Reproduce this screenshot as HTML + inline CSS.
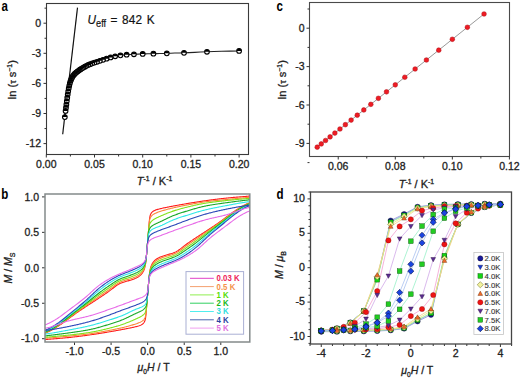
<!DOCTYPE html>
<html><head><meta charset="utf-8"><style>
html,body{margin:0;padding:0;background:#fff;}
svg{display:block;}
text{font-family:"Liberation Sans", sans-serif;}
</style></head><body>
<svg width="521" height="379" viewBox="0 0 521 379">
<rect width="521" height="379" fill="#fff"/>
<text transform="translate(1.5,10.9) scale(0.8,1)" font-size="14.4" font-weight="bold" fill="#000">a</text>
<rect x="46.5" y="3.5" width="202" height="151" fill="none" stroke="#3a3a3a" stroke-width="1.1"/>
<line x1="46.3" y1="154.5" x2="46.3" y2="157.5" stroke="#333" stroke-width="1"/>
<line x1="94.5" y1="154.5" x2="94.5" y2="157.5" stroke="#333" stroke-width="1"/>
<line x1="142.7" y1="154.5" x2="142.7" y2="157.5" stroke="#333" stroke-width="1"/>
<line x1="190.9" y1="154.5" x2="190.9" y2="157.5" stroke="#333" stroke-width="1"/>
<line x1="239.1" y1="154.5" x2="239.1" y2="157.5" stroke="#333" stroke-width="1"/>
<line x1="70.4" y1="154.5" x2="70.4" y2="156.5" stroke="#333" stroke-width="1"/>
<line x1="118.6" y1="154.5" x2="118.6" y2="156.5" stroke="#333" stroke-width="1"/>
<line x1="166.8" y1="154.5" x2="166.8" y2="156.5" stroke="#333" stroke-width="1"/>
<line x1="215" y1="154.5" x2="215" y2="156.5" stroke="#333" stroke-width="1"/>
<line x1="43.5" y1="143.6" x2="46.5" y2="143.6" stroke="#333" stroke-width="1"/>
<line x1="43.5" y1="113.5" x2="46.5" y2="113.5" stroke="#333" stroke-width="1"/>
<line x1="43.5" y1="83.4" x2="46.5" y2="83.4" stroke="#333" stroke-width="1"/>
<line x1="43.5" y1="53.3" x2="46.5" y2="53.3" stroke="#333" stroke-width="1"/>
<line x1="43.5" y1="23.2" x2="46.5" y2="23.2" stroke="#333" stroke-width="1"/>
<line x1="44.5" y1="128.55" x2="46.5" y2="128.55" stroke="#333" stroke-width="1"/>
<line x1="44.5" y1="98.45" x2="46.5" y2="98.45" stroke="#333" stroke-width="1"/>
<line x1="44.5" y1="68.35" x2="46.5" y2="68.35" stroke="#333" stroke-width="1"/>
<line x1="44.5" y1="38.25" x2="46.5" y2="38.25" stroke="#333" stroke-width="1"/>
<line x1="44.5" y1="8.15" x2="46.5" y2="8.15" stroke="#333" stroke-width="1"/>
<text x="46.3" y="168" font-size="10.5" text-anchor="middle" font-weight="normal" font-style="normal" fill="#222" stroke="#222" stroke-width="0.3" >0.00</text>
<text x="94.5" y="168" font-size="10.5" text-anchor="middle" font-weight="normal" font-style="normal" fill="#222" stroke="#222" stroke-width="0.3" >0.05</text>
<text x="142.7" y="168" font-size="10.5" text-anchor="middle" font-weight="normal" font-style="normal" fill="#222" stroke="#222" stroke-width="0.3" >0.10</text>
<text x="190.9" y="168" font-size="10.5" text-anchor="middle" font-weight="normal" font-style="normal" fill="#222" stroke="#222" stroke-width="0.3" >0.15</text>
<text x="239.1" y="168" font-size="10.5" text-anchor="middle" font-weight="normal" font-style="normal" fill="#222" stroke="#222" stroke-width="0.3" >0.20</text>
<text x="41" y="27" font-size="10.5" text-anchor="end" font-weight="normal" font-style="normal" fill="#222" stroke="#222" stroke-width="0.3" >0</text>
<text x="41" y="57.1" font-size="10.5" text-anchor="end" font-weight="normal" font-style="normal" fill="#222" stroke="#222" stroke-width="0.3" >-3</text>
<text x="41" y="87.2" font-size="10.5" text-anchor="end" font-weight="normal" font-style="normal" fill="#222" stroke="#222" stroke-width="0.3" >-6</text>
<text x="41" y="117.3" font-size="10.5" text-anchor="end" font-weight="normal" font-style="normal" fill="#222" stroke="#222" stroke-width="0.3" >-9</text>
<text x="41" y="147.4" font-size="10.5" text-anchor="end" font-weight="normal" font-style="normal" fill="#222" stroke="#222" stroke-width="0.3" >-12</text>
<text x="154.5" y="185" font-size="11" text-anchor="middle" font-weight="normal" font-style="normal" fill="#222" stroke="#222" stroke-width="0.3" ><tspan font-style="italic">T</tspan><tspan dy="-4.2" font-size="6.8">-1</tspan><tspan dy="4.2"> / K</tspan><tspan dy="-4.2" font-size="6.8">-1</tspan></text>
<g transform="translate(16.4,79.6) rotate(-90)"><text x="0" y="0" font-size="11" text-anchor="middle" fill="#222" stroke="#222" stroke-width="0.3">ln (<tspan font-size="9">&#964;</tspan> s<tspan dy="-4" font-size="7">&#8722;1</tspan><tspan dy="4">)</tspan></text></g>
<text transform="translate(87.6,23.8) scale(0.88,1)" font-size="13.4" fill="#111" stroke="#111" stroke-width="0.2"><tspan font-style="italic">U</tspan><tspan dy="2.8" font-size="10.4">eff</tspan><tspan dy="-2.8" letter-spacing="0.25" word-spacing="1.0"> = 842 K</tspan></text>
<line x1="77.5" y1="7.6" x2="62.7" y2="134.3" stroke="#111" stroke-width="1.2"/>
<polyline fill="none" stroke="#222" stroke-width="1.1" points="239.1,50.94 229.92,51.12 221.57,51.32 213.95,51.53 206.97,51.76 200.54,52.04 194.61,52.36 189.11,52.66 184.01,52.85 179.27,52.96 174.83,53.07 170.69,53.19 166.8,53.32 163.15,53.43 159.71,53.52 156.47,53.59 153.41,53.67 150.52,53.74 147.77,53.78 145.17,53.83 142.7,53.89 140.35,53.98 138.11,54.08 135.97,54.18 133.94,54.29 131.99,54.39 130.13,54.5 128.34,54.61 126.63,54.74 124.99,54.87 123.42,55 121.91,55.15 120.45,55.33 119.05,55.55 117.71,55.78 116.41,56.03 115.16,56.29 113.95,56.56 112.78,56.84 111.66,57.13 110.57,57.42 109.51,57.72 108.49,58.03 107.51,58.33 106.55,58.63 105.62,58.94 104.72,59.24 103.85,59.53 103.01,59.82 102.18,60.1 101.39,60.37 100.61,60.62 99.86,60.87 99.12,61.1 98.41,61.32 97.71,61.54 97.04,61.76 96.38,61.97 95.74,62.18 95.11,62.38 94.5,62.58 93.9,62.78 93.32,62.98 92.76,63.18 92.2,63.37 91.66,63.57 91.14,63.76 90.62,63.96 90.12,64.16 89.63,64.35 89.14,64.55 88.67,64.75 88.21,64.96 87.76,65.16 87.32,65.37 86.89,65.58 86.47,65.8 86.05,66.02 85.65,66.23 85.25,66.45 84.86,66.67 84.48,66.88 84.1,67.1 83.74,67.31 83.38,67.52 83.02,67.73 82.68,67.94 82.34,68.15 82,68.36 81.68,68.57 81.35,68.77 81.04,68.98 80.73,69.18 80.42,69.39 80.12,69.59 79.83,69.79 79.54,69.99 79.26,70.19 78.98,70.39 78.7,70.59 78.43,70.78 78.17,70.98 77.91,71.18 77.65,71.37 77.4,71.57 77.15,71.76 76.9,71.96 76.66,72.15 76.42,72.34 76.19,72.54 75.96,72.73 75.74,72.93 75.51,73.12 75.29,73.32 75.08,73.53 74.86,73.74 74.65,73.95 74.45,74.17 74.24,74.39 74.04,74.61 73.84,74.84 73.65,75.08 73.45,75.32 73.27,75.57 73.08,75.82 72.89,76.08 72.71,76.35 72.53,76.63 72.35,76.92 72.18,77.21 72.01,77.52 71.84,77.84 71.67,78.17 71.5,78.52 71.34,78.88 71.18,79.25 71.02,79.64 70.86,80.04 70.71,80.47 70.55,80.91 70.4,81.36 70.25,81.84 70.1,82.34 69.96,82.86 69.81,83.4 69.67,83.96 69.53,84.54 69.39,85.14 69.25,85.76 69.12,86.4 68.98,87.06 68.85,87.74 68.72,88.43 68.59,89.14 68.46,89.87 68.33,90.61 68.21,91.36 68.09,92.13 67.96,92.9 67.84,93.69 67.72,94.49 67.6,95.29 67.49,96.1 67.37,96.92 67.26,97.74 67.14,98.57 67.03,99.4 66.92,100.23 66.81,101.06 66.7,101.89 66.59,102.73 66.49,103.55 66.38,104.38 66.28,105.21 66.18,106.03 66.07,106.85 65.97,107.66 65.87,108.48 65.77,109.28 65.68,110.09 65.58,110.89 65.48,111.68 65.39,112.47 65.3,113.26 65.2,114.04 65.11,114.81 65.02,115.58 64.93,116.34 64.84,117.1 64.75,117.85 64.66,118.6 64.57,119.34 64.49,120.07"/>
<circle cx="239.1" cy="50.94" r="2.35" fill="#fff" stroke="#000" stroke-width="1.05"/>
<path d="M236.75,50.94 A2.35,2.35 0 0 1 241.45,50.94 Z" fill="#000"/>
<circle cx="206.97" cy="51.76" r="2.35" fill="#fff" stroke="#000" stroke-width="1.05"/>
<path d="M204.62,51.76 A2.35,2.35 0 0 1 209.32,51.76 Z" fill="#000"/>
<circle cx="184.01" cy="52.85" r="2.35" fill="#fff" stroke="#000" stroke-width="1.05"/>
<path d="M181.66,52.85 A2.35,2.35 0 0 1 186.36,52.85 Z" fill="#000"/>
<circle cx="166.8" cy="53.32" r="2.35" fill="#fff" stroke="#000" stroke-width="1.05"/>
<path d="M164.45,53.32 A2.35,2.35 0 0 1 169.15,53.32 Z" fill="#000"/>
<circle cx="153.41" cy="53.67" r="2.35" fill="#fff" stroke="#000" stroke-width="1.05"/>
<path d="M151.06,53.67 A2.35,2.35 0 0 1 155.76,53.67 Z" fill="#000"/>
<circle cx="142.7" cy="53.89" r="2.35" fill="#fff" stroke="#000" stroke-width="1.05"/>
<path d="M140.35,53.89 A2.35,2.35 0 0 1 145.05,53.89 Z" fill="#000"/>
<circle cx="133.94" cy="54.29" r="2.35" fill="#fff" stroke="#000" stroke-width="1.05"/>
<path d="M131.59,54.29 A2.35,2.35 0 0 1 136.29,54.29 Z" fill="#000"/>
<circle cx="126.63" cy="54.74" r="2.35" fill="#fff" stroke="#000" stroke-width="1.05"/>
<path d="M124.28,54.74 A2.35,2.35 0 0 1 128.98,54.74 Z" fill="#000"/>
<circle cx="120.45" cy="55.33" r="2.35" fill="#fff" stroke="#000" stroke-width="1.05"/>
<path d="M118.1,55.33 A2.35,2.35 0 0 1 122.8,55.33 Z" fill="#000"/>
<circle cx="115.16" cy="56.29" r="2.35" fill="#fff" stroke="#000" stroke-width="1.05"/>
<path d="M112.81,56.29 A2.35,2.35 0 0 1 117.51,56.29 Z" fill="#000"/>
<circle cx="110.57" cy="57.42" r="2.35" fill="#fff" stroke="#000" stroke-width="1.05"/>
<path d="M108.22,57.42 A2.35,2.35 0 0 1 112.92,57.42 Z" fill="#000"/>
<circle cx="106.55" cy="58.63" r="2.35" fill="#fff" stroke="#000" stroke-width="1.05"/>
<path d="M104.2,58.63 A2.35,2.35 0 0 1 108.9,58.63 Z" fill="#000"/>
<circle cx="103.01" cy="59.82" r="2.35" fill="#fff" stroke="#000" stroke-width="1.05"/>
<path d="M100.66,59.82 A2.35,2.35 0 0 1 105.36,59.82 Z" fill="#000"/>
<circle cx="99.86" cy="60.87" r="2.35" fill="#fff" stroke="#000" stroke-width="1.05"/>
<path d="M97.51,60.87 A2.35,2.35 0 0 1 102.21,60.87 Z" fill="#000"/>
<circle cx="97.04" cy="61.76" r="2.35" fill="#fff" stroke="#000" stroke-width="1.05"/>
<path d="M94.69,61.76 A2.35,2.35 0 0 1 99.39,61.76 Z" fill="#000"/>
<circle cx="94.5" cy="62.58" r="2.35" fill="#fff" stroke="#000" stroke-width="1.05"/>
<path d="M92.15,62.58 A2.35,2.35 0 0 1 96.85,62.58 Z" fill="#000"/>
<circle cx="92.2" cy="63.37" r="2.35" fill="#fff" stroke="#000" stroke-width="1.05"/>
<path d="M89.85,63.37 A2.35,2.35 0 0 1 94.55,63.37 Z" fill="#000"/>
<circle cx="90.12" cy="64.16" r="2.35" fill="#fff" stroke="#000" stroke-width="1.05"/>
<path d="M87.77,64.16 A2.35,2.35 0 0 1 92.47,64.16 Z" fill="#000"/>
<circle cx="88.21" cy="64.96" r="2.35" fill="#fff" stroke="#000" stroke-width="1.05"/>
<path d="M85.86,64.96 A2.35,2.35 0 0 1 90.56,64.96 Z" fill="#000"/>
<circle cx="86.47" cy="65.8" r="2.35" fill="#fff" stroke="#000" stroke-width="1.05"/>
<path d="M84.12,65.8 A2.35,2.35 0 0 1 88.82,65.8 Z" fill="#000"/>
<circle cx="84.86" cy="66.67" r="2.35" fill="#fff" stroke="#000" stroke-width="1.05"/>
<path d="M82.51,66.67 A2.35,2.35 0 0 1 87.21,66.67 Z" fill="#000"/>
<circle cx="83.38" cy="67.52" r="2.35" fill="#fff" stroke="#000" stroke-width="1.05"/>
<path d="M81.03,67.52 A2.35,2.35 0 0 1 85.73,67.52 Z" fill="#000"/>
<circle cx="82" cy="68.36" r="2.35" fill="#fff" stroke="#000" stroke-width="1.05"/>
<path d="M79.65,68.36 A2.35,2.35 0 0 1 84.35,68.36 Z" fill="#000"/>
<circle cx="80.73" cy="69.18" r="2.35" fill="#fff" stroke="#000" stroke-width="1.05"/>
<path d="M78.38,69.18 A2.35,2.35 0 0 1 83.08,69.18 Z" fill="#000"/>
<circle cx="79.54" cy="69.99" r="2.35" fill="#fff" stroke="#000" stroke-width="1.05"/>
<path d="M77.19,69.99 A2.35,2.35 0 0 1 81.89,69.99 Z" fill="#000"/>
<circle cx="78.43" cy="70.78" r="2.35" fill="#fff" stroke="#000" stroke-width="1.05"/>
<path d="M76.08,70.78 A2.35,2.35 0 0 1 80.78,70.78 Z" fill="#000"/>
<circle cx="77.4" cy="71.57" r="2.35" fill="#fff" stroke="#000" stroke-width="1.05"/>
<path d="M75.05,71.57 A2.35,2.35 0 0 1 79.75,71.57 Z" fill="#000"/>
<circle cx="76.42" cy="72.34" r="2.35" fill="#fff" stroke="#000" stroke-width="1.05"/>
<path d="M74.08,72.34 A2.35,2.35 0 0 1 78.77,72.34 Z" fill="#000"/>
<circle cx="75.51" cy="73.12" r="2.35" fill="#fff" stroke="#000" stroke-width="1.05"/>
<path d="M73.16,73.12 A2.35,2.35 0 0 1 77.86,73.12 Z" fill="#000"/>
<circle cx="74.65" cy="73.95" r="2.35" fill="#fff" stroke="#000" stroke-width="1.05"/>
<path d="M72.3,73.95 A2.35,2.35 0 0 1 77,73.95 Z" fill="#000"/>
<circle cx="73.84" cy="74.84" r="2.35" fill="#fff" stroke="#000" stroke-width="1.05"/>
<path d="M71.49,74.84 A2.35,2.35 0 0 1 76.19,74.84 Z" fill="#000"/>
<circle cx="73.08" cy="75.82" r="2.35" fill="#fff" stroke="#000" stroke-width="1.05"/>
<path d="M70.73,75.82 A2.35,2.35 0 0 1 75.43,75.82 Z" fill="#000"/>
<circle cx="72.35" cy="76.92" r="2.35" fill="#fff" stroke="#000" stroke-width="1.05"/>
<path d="M70,76.92 A2.35,2.35 0 0 1 74.7,76.92 Z" fill="#000"/>
<circle cx="71.67" cy="78.17" r="2.35" fill="#fff" stroke="#000" stroke-width="1.05"/>
<path d="M69.32,78.17 A2.35,2.35 0 0 1 74.02,78.17 Z" fill="#000"/>
<circle cx="71.02" cy="79.64" r="2.35" fill="#fff" stroke="#000" stroke-width="1.05"/>
<path d="M68.67,79.64 A2.35,2.35 0 0 1 73.37,79.64 Z" fill="#000"/>
<circle cx="70.4" cy="81.36" r="2.35" fill="#fff" stroke="#000" stroke-width="1.05"/>
<path d="M68.05,81.36 A2.35,2.35 0 0 1 72.75,81.36 Z" fill="#000"/>
<circle cx="69.81" cy="83.4" r="2.35" fill="#fff" stroke="#000" stroke-width="1.05"/>
<path d="M67.46,83.4 A2.35,2.35 0 0 1 72.16,83.4 Z" fill="#000"/>
<circle cx="69.25" cy="85.76" r="2.35" fill="#fff" stroke="#000" stroke-width="1.05"/>
<path d="M66.9,85.76 A2.35,2.35 0 0 1 71.6,85.76 Z" fill="#000"/>
<circle cx="68.72" cy="88.43" r="2.35" fill="#fff" stroke="#000" stroke-width="1.05"/>
<path d="M66.37,88.43 A2.35,2.35 0 0 1 71.07,88.43 Z" fill="#000"/>
<circle cx="68.21" cy="91.36" r="2.35" fill="#fff" stroke="#000" stroke-width="1.05"/>
<path d="M65.86,91.36 A2.35,2.35 0 0 1 70.56,91.36 Z" fill="#000"/>
<circle cx="67.72" cy="94.49" r="2.35" fill="#fff" stroke="#000" stroke-width="1.05"/>
<path d="M65.37,94.49 A2.35,2.35 0 0 1 70.07,94.49 Z" fill="#000"/>
<circle cx="67.26" cy="97.74" r="2.35" fill="#fff" stroke="#000" stroke-width="1.05"/>
<path d="M64.91,97.74 A2.35,2.35 0 0 1 69.61,97.74 Z" fill="#000"/>
<circle cx="66.81" cy="101.06" r="2.35" fill="#fff" stroke="#000" stroke-width="1.05"/>
<path d="M64.46,101.06 A2.35,2.35 0 0 1 69.16,101.06 Z" fill="#000"/>
<circle cx="66.38" cy="104.38" r="2.35" fill="#fff" stroke="#000" stroke-width="1.05"/>
<path d="M64.03,104.38 A2.35,2.35 0 0 1 68.73,104.38 Z" fill="#000"/>
<circle cx="65.97" cy="107.66" r="2.35" fill="#fff" stroke="#000" stroke-width="1.05"/>
<path d="M63.62,107.66 A2.35,2.35 0 0 1 68.32,107.66 Z" fill="#000"/>
<circle cx="65.58" cy="110.89" r="2.35" fill="#fff" stroke="#000" stroke-width="1.05"/>
<path d="M63.23,110.89 A2.35,2.35 0 0 1 67.93,110.89 Z" fill="#000"/>
<circle cx="64.84" cy="117.1" r="2.35" fill="#fff" stroke="#000" stroke-width="1.05"/>
<path d="M62.49,117.1 A2.35,2.35 0 0 1 67.19,117.1 Z" fill="#000"/>
<text transform="translate(276.6,10.9) scale(0.8,1)" font-size="14.4" font-weight="bold" fill="#000">c</text>
<rect x="309.5" y="2.5" width="200" height="154" fill="none" stroke="#4a4a4a" stroke-width="1.1"/>
<line x1="338.23" y1="156.5" x2="338.23" y2="159.5" stroke="#333" stroke-width="1"/>
<line x1="395.29" y1="156.5" x2="395.29" y2="159.5" stroke="#333" stroke-width="1"/>
<line x1="452.34" y1="156.5" x2="452.34" y2="159.5" stroke="#333" stroke-width="1"/>
<line x1="509.4" y1="156.5" x2="509.4" y2="159.5" stroke="#333" stroke-width="1"/>
<line x1="366.76" y1="156.5" x2="366.76" y2="158.5" stroke="#333" stroke-width="1"/>
<line x1="423.81" y1="156.5" x2="423.81" y2="158.5" stroke="#333" stroke-width="1"/>
<line x1="480.87" y1="156.5" x2="480.87" y2="158.5" stroke="#333" stroke-width="1"/>
<line x1="306.5" y1="143.4" x2="309.5" y2="143.4" stroke="#333" stroke-width="1"/>
<line x1="306.5" y1="105" x2="309.5" y2="105" stroke="#333" stroke-width="1"/>
<line x1="306.5" y1="66.6" x2="309.5" y2="66.6" stroke="#333" stroke-width="1"/>
<line x1="306.5" y1="28.2" x2="309.5" y2="28.2" stroke="#333" stroke-width="1"/>
<line x1="307.5" y1="162.6" x2="309.5" y2="162.6" stroke="#333" stroke-width="1"/>
<line x1="307.5" y1="124.2" x2="309.5" y2="124.2" stroke="#333" stroke-width="1"/>
<line x1="307.5" y1="85.8" x2="309.5" y2="85.8" stroke="#333" stroke-width="1"/>
<line x1="307.5" y1="47.4" x2="309.5" y2="47.4" stroke="#333" stroke-width="1"/>
<line x1="307.5" y1="9" x2="309.5" y2="9" stroke="#333" stroke-width="1"/>
<text x="338.23" y="170" font-size="10.5" text-anchor="middle" font-weight="normal" font-style="normal" fill="#222" stroke="#222" stroke-width="0.3" >0.06</text>
<text x="395.29" y="170" font-size="10.5" text-anchor="middle" font-weight="normal" font-style="normal" fill="#222" stroke="#222" stroke-width="0.3" >0.08</text>
<text x="452.34" y="170" font-size="10.5" text-anchor="middle" font-weight="normal" font-style="normal" fill="#222" stroke="#222" stroke-width="0.3" >0.10</text>
<text x="509.4" y="170" font-size="10.5" text-anchor="middle" font-weight="normal" font-style="normal" fill="#222" stroke="#222" stroke-width="0.3" >0.12</text>
<text x="304.5" y="32" font-size="10.5" text-anchor="end" font-weight="normal" font-style="normal" fill="#222" stroke="#222" stroke-width="0.3" >0</text>
<text x="304.5" y="70.4" font-size="10.5" text-anchor="end" font-weight="normal" font-style="normal" fill="#222" stroke="#222" stroke-width="0.3" >-3</text>
<text x="304.5" y="108.8" font-size="10.5" text-anchor="end" font-weight="normal" font-style="normal" fill="#222" stroke="#222" stroke-width="0.3" >-6</text>
<text x="304.5" y="147.2" font-size="10.5" text-anchor="end" font-weight="normal" font-style="normal" fill="#222" stroke="#222" stroke-width="0.3" >-9</text>
<text x="416.4" y="188" font-size="11" text-anchor="middle" font-weight="normal" font-style="normal" fill="#222" stroke="#222" stroke-width="0.3" ><tspan font-style="italic">T</tspan><tspan dy="-4.2" font-size="6.8">-1</tspan><tspan dy="4.2"> / K</tspan><tspan dy="-4.2" font-size="6.8">-1</tspan></text>
<g transform="translate(285.6,79.6) rotate(-90)"><text x="0" y="0" font-size="11" text-anchor="middle" fill="#222" stroke="#222" stroke-width="0.3">ln (<tspan font-size="9">&#964;</tspan> s<tspan dy="-4" font-size="7">&#8722;1</tspan><tspan dy="4">)</tspan></text></g>
<line x1="317.21" y1="147.15" x2="484.04" y2="13.98" stroke="#999" stroke-width="1"/>
<circle cx="317.21" cy="147.15" r="2.35" fill="#ee1c24" stroke="#b00c14" stroke-width="0.5"/>
<circle cx="321.27" cy="143.91" r="2.35" fill="#ee1c24" stroke="#b00c14" stroke-width="0.5"/>
<circle cx="325.55" cy="140.49" r="2.35" fill="#ee1c24" stroke="#b00c14" stroke-width="0.5"/>
<circle cx="330.08" cy="136.88" r="2.35" fill="#ee1c24" stroke="#b00c14" stroke-width="0.5"/>
<circle cx="334.87" cy="133.05" r="2.35" fill="#ee1c24" stroke="#b00c14" stroke-width="0.5"/>
<circle cx="339.96" cy="128.99" r="2.35" fill="#ee1c24" stroke="#b00c14" stroke-width="0.5"/>
<circle cx="345.36" cy="124.68" r="2.35" fill="#ee1c24" stroke="#b00c14" stroke-width="0.5"/>
<circle cx="351.11" cy="120.09" r="2.35" fill="#ee1c24" stroke="#b00c14" stroke-width="0.5"/>
<circle cx="357.25" cy="115.19" r="2.35" fill="#ee1c24" stroke="#b00c14" stroke-width="0.5"/>
<circle cx="363.81" cy="109.95" r="2.35" fill="#ee1c24" stroke="#b00c14" stroke-width="0.5"/>
<circle cx="370.83" cy="104.35" r="2.35" fill="#ee1c24" stroke="#b00c14" stroke-width="0.5"/>
<circle cx="378.38" cy="98.32" r="2.35" fill="#ee1c24" stroke="#b00c14" stroke-width="0.5"/>
<circle cx="386.51" cy="91.83" r="2.35" fill="#ee1c24" stroke="#b00c14" stroke-width="0.5"/>
<circle cx="395.29" cy="84.83" r="2.35" fill="#ee1c24" stroke="#b00c14" stroke-width="0.5"/>
<circle cx="404.8" cy="77.24" r="2.35" fill="#ee1c24" stroke="#b00c14" stroke-width="0.5"/>
<circle cx="415.13" cy="68.99" r="2.35" fill="#ee1c24" stroke="#b00c14" stroke-width="0.5"/>
<circle cx="426.41" cy="59.99" r="2.35" fill="#ee1c24" stroke="#b00c14" stroke-width="0.5"/>
<circle cx="438.76" cy="50.13" r="2.35" fill="#ee1c24" stroke="#b00c14" stroke-width="0.5"/>
<circle cx="452.34" cy="39.28" r="2.35" fill="#ee1c24" stroke="#b00c14" stroke-width="0.5"/>
<circle cx="467.36" cy="27.3" r="2.35" fill="#ee1c24" stroke="#b00c14" stroke-width="0.5"/>
<circle cx="484.04" cy="13.98" r="2.35" fill="#ee1c24" stroke="#b00c14" stroke-width="0.5"/>
<text transform="translate(1.2,199.1) scale(0.8,1)" font-size="14.4" font-weight="bold" fill="#000">b</text>
<line x1="74.5" y1="342" x2="74.5" y2="345" stroke="#333" stroke-width="1"/>
<line x1="111.08" y1="342" x2="111.08" y2="345" stroke="#333" stroke-width="1"/>
<line x1="147.65" y1="342" x2="147.65" y2="345" stroke="#333" stroke-width="1"/>
<line x1="184.23" y1="342" x2="184.23" y2="345" stroke="#333" stroke-width="1"/>
<line x1="220.8" y1="342" x2="220.8" y2="345" stroke="#333" stroke-width="1"/>
<line x1="42" y1="338.7" x2="45" y2="338.7" stroke="#333" stroke-width="1"/>
<line x1="42" y1="303.25" x2="45" y2="303.25" stroke="#333" stroke-width="1"/>
<line x1="42" y1="267.8" x2="45" y2="267.8" stroke="#333" stroke-width="1"/>
<line x1="42" y1="232.35" x2="45" y2="232.35" stroke="#333" stroke-width="1"/>
<line x1="42" y1="196.9" x2="45" y2="196.9" stroke="#333" stroke-width="1"/>
<text x="74.5" y="355.2" font-size="10.5" text-anchor="middle" font-weight="normal" font-style="normal" fill="#222" stroke="#222" stroke-width="0.3" >-1.0</text>
<text x="39" y="342.4" font-size="10.5" text-anchor="end" font-weight="normal" font-style="normal" fill="#222" stroke="#222" stroke-width="0.3" >-1.0</text>
<text x="111.08" y="355.2" font-size="10.5" text-anchor="middle" font-weight="normal" font-style="normal" fill="#222" stroke="#222" stroke-width="0.3" >-0.5</text>
<text x="39" y="306.95" font-size="10.5" text-anchor="end" font-weight="normal" font-style="normal" fill="#222" stroke="#222" stroke-width="0.3" >-0.5</text>
<text x="147.65" y="355.2" font-size="10.5" text-anchor="middle" font-weight="normal" font-style="normal" fill="#222" stroke="#222" stroke-width="0.3" >0.0</text>
<text x="39" y="271.5" font-size="10.5" text-anchor="end" font-weight="normal" font-style="normal" fill="#222" stroke="#222" stroke-width="0.3" >0.0</text>
<text x="184.23" y="355.2" font-size="10.5" text-anchor="middle" font-weight="normal" font-style="normal" fill="#222" stroke="#222" stroke-width="0.3" >0.5</text>
<text x="39" y="236.05" font-size="10.5" text-anchor="end" font-weight="normal" font-style="normal" fill="#222" stroke="#222" stroke-width="0.3" >0.5</text>
<text x="220.8" y="355.2" font-size="10.5" text-anchor="middle" font-weight="normal" font-style="normal" fill="#222" stroke="#222" stroke-width="0.3" >1.0</text>
<text x="39" y="200.6" font-size="10.5" text-anchor="end" font-weight="normal" font-style="normal" fill="#222" stroke="#222" stroke-width="0.3" >1.0</text>
<text x="153.6" y="370.6" font-size="10.5" text-anchor="middle" font-weight="normal" font-style="normal" fill="#222" stroke="#222" stroke-width="0.3" ><tspan font-style="italic">&#956;</tspan><tspan dy="3.4" font-size="6.6">0</tspan><tspan dy="-3.4" font-style="italic">H</tspan> / T</text>
<g transform="translate(12.3,268) rotate(-90)"><text x="0" y="0" font-size="10.5" text-anchor="middle" fill="#222" stroke="#222" stroke-width="0.3"><tspan font-style="italic">M</tspan> / <tspan font-style="italic">M</tspan><tspan dy="3" font-size="7">S</tspan></text></g>
<clipPath id="cb"><rect x="45" y="194" width="204.8" height="148"/></clipPath>
<g clip-path="url(#cb)">
<polyline fill="none" stroke="#ff1c1c" stroke-width="1.1" stroke-linejoin="round" points="37.93,335.69 38.68,335.43 39.44,335.17 40.2,334.92 40.95,334.66 41.71,334.39 42.46,334.12 43.21,333.85 43.96,333.57 44.71,333.28 45.45,332.99 46.19,332.69 46.93,332.38 47.66,332.06 48.39,331.73 49.11,331.39 49.83,331.05 50.54,330.69 51.25,330.32 51.95,329.94 52.65,329.56 53.35,329.16 54.04,328.76 54.72,328.35 55.41,327.93 56.08,327.51 56.76,327.08 57.43,326.65 58.1,326.22 58.77,325.78 59.44,325.33 60.1,324.89 60.76,324.44 61.42,323.99 62.08,323.53 62.74,323.07 63.39,322.61 64.04,322.14 64.69,321.68 65.34,321.2 65.98,320.73 66.62,320.25 67.26,319.78 67.9,319.3 68.54,318.81 69.18,318.33 69.82,317.85 70.46,317.37 71.1,316.89 71.74,316.41 72.39,315.94 73.03,315.46 73.68,314.99 74.32,314.52 74.97,314.05 75.63,313.59 76.28,313.13 76.93,312.67 77.59,312.21 78.25,311.75 78.91,311.3 79.57,310.85 80.23,310.4 80.89,309.95 81.55,309.5 82.22,309.05 82.88,308.61 83.55,308.17 84.22,307.72 84.88,307.28 85.55,306.84 86.22,306.4 86.89,305.97 87.56,305.53 88.23,305.1 88.91,304.66 89.58,304.22 90.25,303.79 90.92,303.36 91.59,302.92 92.27,302.49 92.94,302.05 93.61,301.61 94.28,301.18 94.95,300.74 95.62,300.3 96.29,299.86 96.96,299.42 97.62,298.98 98.29,298.54 98.96,298.1 99.63,297.66 100.29,297.21 100.96,296.77 101.62,296.33 102.29,295.88 102.95,295.44 103.62,294.99 104.28,294.54 104.95,294.1 105.61,293.65 106.27,293.19 106.92,292.74 107.58,292.28 108.23,291.81 108.88,291.35 109.52,290.87 110.16,290.4 110.8,289.92 111.44,289.43 112.07,288.94 112.69,288.45 113.32,287.96 113.94,287.47 114.57,286.98 115.2,286.5 115.83,286.03 116.48,285.57 117.13,285.13 117.79,284.72 118.46,284.32 119.15,283.95 119.85,283.6 120.57,283.27 121.29,282.97 122.03,282.68 122.77,282.42 123.52,282.17 124.28,281.93 125.05,281.71 125.81,281.49 126.58,281.27 127.35,281.06 128.12,280.85 128.89,280.63 129.66,280.41 130.42,280.18 131.19,279.95 131.94,279.7 132.7,279.44 133.45,279.17 134.19,278.89 134.92,278.59 135.65,278.27 136.36,277.94 137.06,277.58 137.74,277.2 138.4,276.79 139.04,276.35 139.66,275.89 140.25,275.4 140.8,274.88 141.33,274.32 141.83,273.74 142.29,273.13 142.71,272.5 143.1,271.83 143.46,271.15 143.79,270.45 144.08,269.73 144.35,268.99 144.59,268.25 144.8,267.49 144.99,266.72 145.17,265.95 145.32,265.17 145.46,264.39 145.59,263.6 145.71,262.82 145.81,262.02 145.91,261.23 146,260.44 146.09,259.64 146.17,258.85 146.24,258.05 146.32,257.25 146.39,256.46 146.46,255.66 146.52,254.86 146.59,254.07 146.66,253.27 146.72,252.47 146.79,251.67 146.86,250.88 146.92,250.08 146.99,249.28 147.05,248.48 147.12,247.69 147.18,246.89 147.25,246.09 147.32,245.29 147.38,244.49 147.45,243.7 147.51,242.9 147.58,242.1 147.65,241.3 147.71,240.51 147.78,239.71 147.84,238.91 147.91,238.11 147.97,237.32 148.04,236.52 148.11,235.72 148.17,234.92 148.24,234.13 148.3,233.33 148.37,232.53 148.44,231.73 148.5,230.94 148.57,230.14 148.63,229.34 148.7,228.54 148.76,227.75 148.83,226.95 148.9,226.15 148.96,225.35 149.03,224.56 149.09,223.76 149.16,222.96 149.23,222.16 149.3,221.37 149.37,220.58 149.45,219.79 149.54,219.01 149.64,218.23 149.76,217.47 149.89,216.73 150.05,216 150.25,215.3 150.48,214.63 150.76,213.99 151.08,213.39 151.46,212.84 151.89,212.33 152.38,211.86 152.91,211.43 153.49,211.05 154.11,210.71 154.77,210.39 155.46,210.11 156.18,209.85 156.91,209.61 157.66,209.39 158.42,209.18 159.18,208.98 159.96,208.79 160.73,208.61 161.51,208.43 162.29,208.25 163.07,208.08 163.86,207.91 164.64,207.75 165.42,207.59 166.21,207.43 166.99,207.27 167.77,207.11 168.56,206.96 169.35,206.8 170.13,206.65 170.92,206.5 171.7,206.35 172.49,206.2 173.28,206.05 174.06,205.91 174.85,205.76 175.64,205.61 176.42,205.47 177.21,205.32 178,205.18 178.79,205.04 179.57,204.9 180.36,204.76 181.15,204.62 181.94,204.48 182.72,204.34 183.51,204.2 184.3,204.07 185.09,203.93 185.88,203.8 186.67,203.66 187.46,203.53 188.25,203.4 189.04,203.26 189.83,203.13 190.61,203 191.4,202.87 192.19,202.74 192.98,202.61 193.77,202.48 194.56,202.36 195.35,202.23 196.14,202.1 196.93,201.98 197.73,201.86 198.52,201.73 199.31,201.61 200.1,201.49 200.89,201.37 201.68,201.25 202.47,201.14 203.26,201.02 204.06,200.91 204.85,200.79 205.64,200.68 206.43,200.57 207.23,200.46 208.02,200.35 208.81,200.24 209.6,200.13 210.4,200.02 211.19,199.92 211.98,199.81 212.78,199.71 213.57,199.6 214.36,199.5 215.16,199.4 215.95,199.3 216.75,199.2 217.54,199.1 218.33,199 219.13,198.9 219.92,198.81 220.72,198.71 221.51,198.62 222.31,198.53 223.1,198.44 223.9,198.35 224.69,198.27 225.49,198.18 226.29,198.1 227.08,198.02 227.88,197.94 228.67,197.86 229.47,197.78 230.27,197.71 231.06,197.63 231.86,197.56 232.66,197.49 233.46,197.42 234.25,197.35 235.05,197.28 235.85,197.22 236.65,197.15 237.44,197.09 238.24,197.02 239.04,196.96 239.84,196.89 240.63,196.83 241.43,196.76 242.23,196.7 243.03,196.63 243.82,196.57 244.62,196.5 245.42,196.44 246.22,196.37 247.01,196.3 247.81,196.23 248.61,196.16 249.41,196.09 250.2,196.02 251,195.95 251.8,195.88 252.59,195.81 253.39,195.73 254.19,195.66 254.98,195.59 255.78,195.51 256.58,195.44 257.38,195.36"/>
<polyline fill="none" stroke="#ff1c1c" stroke-width="1.1" stroke-linejoin="round" points="37.92,340.24 38.72,340.16 39.52,340.09 40.32,340.01 41.11,339.94 41.91,339.87 42.71,339.79 43.5,339.72 44.3,339.65 45.1,339.58 45.89,339.51 46.69,339.44 47.49,339.37 48.29,339.3 49.08,339.23 49.88,339.16 50.68,339.1 51.48,339.03 52.27,338.97 53.07,338.9 53.87,338.84 54.67,338.77 55.46,338.71 56.26,338.64 57.06,338.58 57.86,338.51 58.65,338.45 59.45,338.38 60.25,338.32 61.05,338.25 61.84,338.18 62.64,338.11 63.44,338.04 64.24,337.97 65.03,337.89 65.83,337.82 66.63,337.74 67.42,337.66 68.22,337.58 69.01,337.5 69.81,337.42 70.61,337.33 71.4,337.25 72.2,337.16 72.99,337.07 73.79,336.98 74.58,336.89 75.38,336.79 76.17,336.7 76.97,336.6 77.76,336.5 78.55,336.4 79.35,336.3 80.14,336.2 80.94,336.1 81.73,336 82.52,335.89 83.32,335.79 84.11,335.68 84.9,335.58 85.7,335.47 86.49,335.36 87.28,335.25 88.07,335.14 88.87,335.03 89.66,334.92 90.45,334.81 91.24,334.69 92.04,334.58 92.83,334.46 93.62,334.35 94.41,334.23 95.2,334.11 95.99,333.99 96.78,333.87 97.57,333.74 98.37,333.62 99.16,333.5 99.95,333.37 100.74,333.24 101.53,333.12 102.32,332.99 103.11,332.86 103.9,332.73 104.69,332.6 105.47,332.47 106.26,332.34 107.05,332.2 107.84,332.07 108.63,331.94 109.42,331.8 110.21,331.67 111,331.53 111.79,331.4 112.58,331.26 113.36,331.12 114.15,330.98 114.94,330.84 115.73,330.7 116.51,330.56 117.3,330.42 118.09,330.28 118.88,330.13 119.66,329.99 120.45,329.84 121.24,329.69 122.02,329.55 122.81,329.4 123.6,329.25 124.38,329.1 125.17,328.95 125.95,328.8 126.74,328.64 127.53,328.49 128.31,328.33 129.09,328.17 129.88,328.01 130.66,327.85 131.44,327.69 132.23,327.52 133.01,327.35 133.79,327.17 134.57,326.99 135.34,326.81 136.12,326.62 136.88,326.42 137.64,326.21 138.39,325.99 139.12,325.75 139.84,325.49 140.53,325.21 141.19,324.89 141.81,324.55 142.39,324.17 142.92,323.74 143.41,323.27 143.84,322.76 144.22,322.21 144.54,321.61 144.82,320.97 145.05,320.3 145.25,319.6 145.41,318.87 145.54,318.13 145.66,317.37 145.76,316.59 145.85,315.81 145.93,315.02 146,314.23 146.07,313.44 146.14,312.64 146.21,311.84 146.27,311.04 146.34,310.25 146.4,309.45 146.47,308.65 146.54,307.85 146.6,307.06 146.67,306.26 146.73,305.46 146.8,304.66 146.86,303.87 146.93,303.07 147,302.27 147.06,301.47 147.13,300.68 147.19,299.88 147.26,299.08 147.33,298.28 147.39,297.49 147.46,296.69 147.52,295.89 147.59,295.09 147.65,294.3 147.72,293.5 147.79,292.7 147.85,291.9 147.92,291.11 147.98,290.31 148.05,289.51 148.12,288.71 148.18,287.91 148.25,287.12 148.31,286.32 148.38,285.52 148.44,284.72 148.51,283.93 148.58,283.13 148.64,282.33 148.71,281.53 148.78,280.74 148.84,279.94 148.91,279.14 148.98,278.35 149.06,277.55 149.13,276.75 149.21,275.96 149.3,275.16 149.39,274.37 149.49,273.58 149.59,272.78 149.71,272 149.84,271.21 149.98,270.43 150.13,269.65 150.31,268.88 150.5,268.11 150.71,267.35 150.95,266.61 151.22,265.87 151.51,265.15 151.84,264.45 152.2,263.77 152.59,263.1 153.01,262.47 153.47,261.86 153.97,261.28 154.5,260.72 155.05,260.2 155.64,259.71 156.26,259.25 156.9,258.81 157.56,258.4 158.24,258.02 158.94,257.66 159.65,257.33 160.38,257.01 161.11,256.71 161.85,256.43 162.6,256.16 163.36,255.9 164.11,255.65 164.88,255.42 165.64,255.19 166.41,254.97 167.18,254.75 167.95,254.54 168.72,254.33 169.49,254.11 170.25,253.89 171.02,253.67 171.78,253.43 172.53,253.18 173.27,252.92 174.01,252.63 174.73,252.33 175.45,252 176.15,251.65 176.84,251.28 177.51,250.88 178.17,250.47 178.82,250.03 179.47,249.57 180.1,249.1 180.73,248.62 181.36,248.13 181.98,247.64 182.61,247.15 183.23,246.66 183.86,246.17 184.5,245.68 185.14,245.2 185.78,244.73 186.42,244.25 187.07,243.79 187.72,243.32 188.38,242.86 189.03,242.41 189.69,241.95 190.35,241.5 191.02,241.06 191.68,240.61 192.35,240.16 193.01,239.72 193.68,239.27 194.34,238.83 195.01,238.39 195.67,237.94 196.34,237.5 197.01,237.06 197.68,236.62 198.34,236.18 199.01,235.74 199.68,235.3 200.35,234.86 201.02,234.42 201.69,233.99 202.36,233.55 203.03,233.11 203.71,232.68 204.38,232.24 205.05,231.81 205.72,231.38 206.39,230.94 207.07,230.5 207.74,230.07 208.41,229.63 209.08,229.2 209.75,228.76 210.42,228.32 211.08,227.88 211.75,227.43 212.42,226.99 213.08,226.55 213.75,226.1 214.41,225.65 215.07,225.2 215.73,224.75 216.39,224.3 217.05,223.85 217.71,223.39 218.37,222.93 219.02,222.47 219.67,222.01 220.33,221.55 220.98,221.08 221.62,220.61 222.27,220.14 222.91,219.66 223.56,219.19 224.2,218.71 224.84,218.23 225.48,217.75 226.12,217.27 226.76,216.79 227.4,216.3 228.04,215.82 228.68,215.35 229.32,214.87 229.96,214.4 230.61,213.92 231.26,213.46 231.91,212.99 232.56,212.53 233.22,212.07 233.88,211.61 234.54,211.16 235.2,210.71 235.86,210.27 236.53,209.82 237.2,209.38 237.87,208.95 238.54,208.52 239.22,208.09 239.89,207.67 240.58,207.25 241.26,206.84 241.95,206.44 242.65,206.04 243.35,205.66 244.05,205.28 244.76,204.91 245.47,204.55 246.19,204.21 246.91,203.87 247.64,203.54 248.37,203.22 249.11,202.91 249.85,202.61 250.59,202.32 251.34,202.03 252.09,201.75 252.84,201.48 253.59,201.21 254.35,200.94 255.1,200.68 255.86,200.43 256.62,200.17 257.38,199.91"/>
<polyline fill="none" stroke="#f98a3a" stroke-width="1.1" stroke-linejoin="round" points="37.92,335.28 38.68,335.02 39.44,334.77 40.2,334.51 40.95,334.25 41.71,333.98 42.46,333.71 43.21,333.44 43.96,333.16 44.7,332.87 45.45,332.58 46.19,332.27 46.92,331.96 47.65,331.64 48.38,331.31 49.1,330.98 49.82,330.63 50.53,330.27 51.24,329.9 51.94,329.52 52.64,329.13 53.33,328.73 54.02,328.33 54.7,327.92 55.39,327.5 56.06,327.07 56.74,326.64 57.41,326.21 58.07,325.77 58.74,325.32 59.4,324.88 60.06,324.43 60.72,323.97 61.38,323.52 62.03,323.05 62.68,322.59 63.33,322.12 63.98,321.65 64.62,321.18 65.27,320.7 65.91,320.23 66.55,319.74 67.18,319.26 67.82,318.78 68.46,318.29 69.09,317.8 69.73,317.32 70.36,316.83 71,316.35 71.64,315.86 72.27,315.38 72.91,314.9 73.56,314.42 74.2,313.95 74.84,313.47 75.49,313 76.14,312.53 76.79,312.06 77.44,311.6 78.09,311.13 78.74,310.67 79.39,310.21 80.05,309.75 80.7,309.29 81.36,308.83 82.01,308.37 82.67,307.92 83.33,307.46 83.99,307 84.64,306.55 85.3,306.09 85.96,305.64 86.62,305.18 87.28,304.73 87.94,304.28 88.6,303.82 89.25,303.37 89.91,302.91 90.57,302.46 91.23,302 91.89,301.55 92.54,301.09 93.2,300.63 93.86,300.18 94.51,299.72 95.17,299.26 95.83,298.81 96.49,298.35 97.14,297.89 97.8,297.44 98.46,296.98 99.12,296.53 99.78,296.08 100.44,295.62 101.1,295.17 101.76,294.72 102.42,294.27 103.08,293.82 103.74,293.37 104.4,292.91 105.06,292.46 105.72,292.01 106.38,291.56 107.03,291.1 107.69,290.64 108.34,290.18 109,289.72 109.64,289.25 110.29,288.78 110.93,288.31 111.57,287.83 112.21,287.35 112.85,286.87 113.48,286.39 114.12,285.91 114.76,285.44 115.4,284.98 116.05,284.53 116.71,284.09 117.37,283.67 118.05,283.27 118.73,282.88 119.43,282.53 120.14,282.19 120.86,281.87 121.6,281.57 122.34,281.29 123.08,281.03 123.84,280.78 124.6,280.54 125.36,280.3 126.12,280.08 126.89,279.85 127.66,279.63 128.42,279.4 129.19,279.17 129.95,278.93 130.71,278.69 131.47,278.44 132.22,278.18 132.97,277.91 133.72,277.63 134.45,277.34 135.18,277.02 135.9,276.7 136.61,276.35 137.31,275.99 137.99,275.6 138.65,275.19 139.29,274.75 139.9,274.28 140.49,273.78 141.04,273.26 141.57,272.7 142.06,272.12 142.52,271.51 142.95,270.87 143.33,270.21 143.69,269.53 144.01,268.82 144.3,268.1 144.57,267.37 144.8,266.62 145.01,265.86 145.2,265.1 145.37,264.32 145.52,263.54 145.65,262.76 145.77,261.97 145.88,261.18 145.98,260.39 146.07,259.6 146.16,258.81 146.24,258.01 146.31,257.21 146.39,256.42 146.46,255.62 146.53,254.82 146.59,254.03 146.66,253.23 146.73,252.43 146.79,251.63 146.86,250.84 146.92,250.04 146.99,249.24 147.06,248.45 147.12,247.65 147.19,246.85 147.25,246.05 147.32,245.26 147.39,244.46 147.45,243.66 147.52,242.86 147.58,242.07 147.65,241.27 147.71,240.47 147.78,239.67 147.85,238.88 147.91,238.08 147.98,237.28 148.04,236.48 148.11,235.69 148.17,234.89 148.24,234.09 148.31,233.29 148.37,232.5 148.44,231.7 148.5,230.9 148.57,230.11 148.64,229.31 148.7,228.51 148.77,227.71 148.83,226.92 148.9,226.12 148.97,225.32 149.04,224.53 149.12,223.74 149.21,222.96 149.3,222.18 149.41,221.41 149.54,220.66 149.69,219.92 149.87,219.2 150.09,218.51 150.34,217.85 150.65,217.22 151,216.63 151.41,216.08 151.86,215.57 152.37,215.1 152.92,214.66 153.52,214.26 154.15,213.89 154.81,213.54 155.5,213.22 156.21,212.91 156.93,212.62 157.67,212.34 158.41,212.07 159.17,211.81 159.92,211.56 160.68,211.31 161.44,211.07 162.21,210.84 162.97,210.6 163.74,210.37 164.51,210.15 165.27,209.93 166.04,209.71 166.81,209.5 167.59,209.28 168.36,209.08 169.13,208.87 169.91,208.67 170.68,208.48 171.46,208.29 172.24,208.1 173.01,207.91 173.79,207.73 174.57,207.55 175.35,207.37 176.13,207.2 176.92,207.03 177.7,206.86 178.48,206.7 179.26,206.54 180.05,206.38 180.83,206.22 181.62,206.06 182.4,205.91 183.19,205.75 183.97,205.6 184.76,205.44 185.54,205.29 186.33,205.14 187.11,204.99 187.9,204.84 188.69,204.69 189.47,204.54 190.26,204.39 191.04,204.24 191.83,204.09 192.62,203.94 193.4,203.79 194.19,203.65 194.98,203.5 195.76,203.36 196.55,203.22 197.34,203.08 198.13,202.94 198.91,202.81 199.7,202.68 200.49,202.55 201.28,202.42 202.07,202.3 202.86,202.18 203.65,202.06 204.45,201.94 205.24,201.83 206.03,201.72 206.82,201.62 207.62,201.51 208.41,201.41 209.21,201.31 210,201.22 210.79,201.12 211.59,201.03 212.38,200.94 213.18,200.85 213.97,200.76 214.77,200.67 215.56,200.59 216.36,200.5 217.16,200.42 217.95,200.33 218.75,200.25 219.54,200.17 220.34,200.09 221.13,200.01 221.93,199.93 222.73,199.85 223.52,199.77 224.32,199.69 225.12,199.61 225.91,199.53 226.71,199.45 227.5,199.37 228.3,199.29 229.1,199.22 229.89,199.14 230.69,199.06 231.49,198.98 232.28,198.91 233.08,198.83 233.88,198.76 234.67,198.68 235.47,198.61 236.27,198.53 237.06,198.46 237.86,198.38 238.66,198.31 239.45,198.24 240.25,198.16 241.05,198.09 241.84,198.02 242.64,197.94 243.44,197.87 244.23,197.8 245.03,197.72 245.83,197.65 246.62,197.57 247.42,197.5 248.22,197.42 249.01,197.35 249.81,197.27 250.61,197.2 251.4,197.12 252.2,197.05 252.99,196.97 253.79,196.89 254.59,196.82 255.38,196.74 256.18,196.67 256.98,196.59"/>
<polyline fill="none" stroke="#f98a3a" stroke-width="1.1" stroke-linejoin="round" points="37.92,339.05 38.72,338.97 39.52,338.9 40.31,338.82 41.11,338.74 41.91,338.67 42.7,338.59 43.5,338.51 44.3,338.44 45.09,338.36 45.89,338.29 46.69,338.21 47.48,338.14 48.28,338.06 49.08,337.99 49.87,337.91 50.67,337.84 51.47,337.77 52.26,337.69 53.06,337.62 53.86,337.55 54.65,337.47 55.45,337.4 56.25,337.33 57.04,337.25 57.84,337.18 58.64,337.1 59.43,337.03 60.23,336.96 61.03,336.88 61.82,336.81 62.62,336.73 63.42,336.65 64.21,336.58 65.01,336.5 65.81,336.42 66.6,336.34 67.4,336.27 68.19,336.19 68.99,336.11 69.79,336.03 70.58,335.95 71.38,335.87 72.17,335.79 72.97,335.71 73.77,335.63 74.56,335.55 75.36,335.47 76.16,335.39 76.95,335.31 77.75,335.22 78.54,335.14 79.34,335.06 80.13,334.97 80.93,334.89 81.72,334.8 82.52,334.71 83.31,334.62 84.11,334.53 84.9,334.43 85.7,334.34 86.49,334.24 87.29,334.14 88.08,334.04 88.87,333.93 89.66,333.82 90.46,333.71 91.25,333.6 92.04,333.48 92.83,333.36 93.62,333.24 94.41,333.12 95.2,332.99 95.99,332.86 96.78,332.73 97.57,332.59 98.36,332.45 99.14,332.31 99.93,332.17 100.72,332.03 101.51,331.88 102.29,331.73 103.08,331.59 103.86,331.44 104.65,331.29 105.44,331.14 106.22,330.99 107.01,330.84 107.79,330.69 108.58,330.53 109.36,330.38 110.15,330.23 110.94,330.08 111.72,329.93 112.51,329.77 113.29,329.62 114.08,329.46 114.86,329.3 115.64,329.14 116.43,328.98 117.21,328.82 117.99,328.65 118.78,328.48 119.56,328.31 120.34,328.14 121.12,327.96 121.9,327.78 122.68,327.6 123.45,327.41 124.23,327.22 125.01,327.02 125.78,326.83 126.55,326.62 127.33,326.42 128.1,326.21 128.87,326 129.64,325.78 130.41,325.56 131.18,325.34 131.95,325.11 132.71,324.88 133.48,324.65 134.24,324.41 135,324.16 135.76,323.91 136.51,323.66 137.26,323.39 138,323.12 138.73,322.83 139.45,322.54 140.15,322.22 140.82,321.89 141.47,321.53 142.09,321.14 142.66,320.72 143.19,320.27 143.67,319.78 144.1,319.25 144.48,318.68 144.81,318.07 145.09,317.42 145.33,316.75 145.53,316.04 145.69,315.32 145.83,314.57 145.95,313.81 146.05,313.03 146.14,312.25 146.22,311.46 146.29,310.67 146.36,309.88 146.43,309.08 146.5,308.29 146.57,307.49 146.63,306.69 146.7,305.89 146.76,305.1 146.83,304.3 146.89,303.5 146.96,302.7 147.03,301.91 147.09,301.11 147.16,300.31 147.22,299.51 147.29,298.72 147.36,297.92 147.42,297.12 147.49,296.32 147.55,295.53 147.62,294.73 147.68,293.93 147.75,293.14 147.82,292.34 147.88,291.54 147.95,290.74 148.01,289.95 148.08,289.15 148.15,288.35 148.21,287.55 148.28,286.76 148.34,285.96 148.41,285.16 148.47,284.36 148.54,283.57 148.61,282.77 148.67,281.97 148.74,281.17 148.81,280.38 148.88,279.58 148.95,278.78 149.02,277.99 149.1,277.19 149.18,276.4 149.27,275.6 149.37,274.81 149.47,274.02 149.59,273.23 149.71,272.45 149.86,271.67 150.01,270.89 150.19,270.12 150.39,269.36 150.61,268.6 150.86,267.86 151.14,267.13 151.44,266.42 151.78,265.73 152.16,265.06 152.56,264.41 153,263.78 153.48,263.18 153.99,262.61 154.53,262.07 155.1,261.56 155.7,261.08 156.33,260.63 156.98,260.2 157.65,259.8 158.34,259.43 159.04,259.07 159.75,258.74 160.48,258.42 161.21,258.12 161.95,257.83 162.7,257.55 163.45,257.29 164.21,257.03 164.97,256.79 165.73,256.55 166.5,256.31 167.26,256.09 168.03,255.86 168.79,255.64 169.56,255.41 170.32,255.18 171.08,254.94 171.84,254.7 172.59,254.44 173.34,254.17 174.07,253.88 174.8,253.57 175.51,253.25 176.22,252.9 176.91,252.53 177.59,252.14 178.26,251.72 178.92,251.29 179.58,250.85 180.22,250.39 180.86,249.92 181.5,249.45 182.13,248.97 182.77,248.49 183.41,248.01 184.05,247.53 184.69,247.06 185.33,246.58 185.98,246.12 186.63,245.65 187.28,245.19 187.94,244.73 188.59,244.27 189.25,243.82 189.91,243.36 190.57,242.91 191.23,242.46 191.89,242.01 192.55,241.56 193.21,241.11 193.87,240.66 194.53,240.2 195.19,239.75 195.85,239.3 196.51,238.84 197.17,238.39 197.83,237.93 198.49,237.48 199.14,237.02 199.8,236.56 200.46,236.11 201.11,235.65 201.77,235.2 202.43,234.74 203.09,234.28 203.74,233.83 204.4,233.37 205.06,232.92 205.72,232.46 206.38,232.01 207.03,231.55 207.69,231.1 208.35,230.64 209.01,230.19 209.67,229.73 210.33,229.28 210.98,228.82 211.64,228.37 212.3,227.91 212.96,227.46 213.61,227 214.27,226.54 214.92,226.08 215.58,225.62 216.23,225.16 216.89,224.7 217.54,224.23 218.19,223.77 218.84,223.3 219.49,222.83 220.13,222.36 220.78,221.89 221.42,221.42 222.06,220.94 222.71,220.46 223.34,219.98 223.98,219.49 224.62,219.01 225.26,218.53 225.89,218.04 226.53,217.55 227.16,217.07 227.8,216.58 228.43,216.1 229.07,215.62 229.71,215.13 230.35,214.66 231,214.18 231.64,213.71 232.29,213.24 232.94,212.78 233.59,212.31 234.25,211.86 234.91,211.4 235.57,210.95 236.23,210.5 236.89,210.05 237.56,209.61 238.23,209.17 238.9,208.74 239.58,208.31 240.25,207.89 240.94,207.48 241.62,207.07 242.31,206.67 243.01,206.27 243.71,205.89 244.41,205.52 245.12,205.15 245.84,204.8 246.56,204.45 247.28,204.12 248.01,203.8 248.75,203.48 249.48,203.17 250.22,202.88 250.97,202.58 251.71,202.3 252.46,202.02 253.22,201.75 253.97,201.48 254.72,201.22 255.48,200.96 256.24,200.7 257,200.45"/>
<polyline fill="none" stroke="#80e41a" stroke-width="1.1" stroke-linejoin="round" points="37.92,334.96 38.68,334.7 39.44,334.44 40.2,334.18 40.95,333.92 41.71,333.65 42.46,333.38 43.21,333.11 43.96,332.83 44.71,332.54 45.45,332.24 46.19,331.94 46.92,331.63 47.65,331.3 48.38,330.97 49.1,330.63 49.82,330.28 50.53,329.92 51.24,329.55 51.94,329.16 52.63,328.77 53.33,328.37 54.01,327.96 54.69,327.55 55.37,327.12 56.05,326.69 56.72,326.26 57.39,325.82 58.05,325.37 58.71,324.92 59.37,324.47 60.03,324.01 60.68,323.55 61.33,323.08 61.98,322.62 62.63,322.15 63.28,321.67 63.92,321.19 64.56,320.71 65.2,320.23 65.83,319.74 66.47,319.25 67.1,318.76 67.73,318.27 68.36,317.78 68.99,317.28 69.62,316.79 70.25,316.3 70.88,315.8 71.51,315.31 72.15,314.82 72.78,314.33 73.42,313.85 74.05,313.36 74.69,312.88 75.33,312.39 75.97,311.91 76.61,311.44 77.25,310.96 77.9,310.48 78.54,310.01 79.19,309.53 79.83,309.06 80.48,308.59 81.13,308.11 81.77,307.64 82.42,307.17 83.06,306.7 83.71,306.22 84.36,305.75 85,305.28 85.65,304.8 86.29,304.33 86.94,303.85 87.58,303.38 88.22,302.9 88.87,302.42 89.51,301.94 90.15,301.46 90.79,300.98 91.43,300.5 92.07,300.02 92.71,299.54 93.35,299.05 93.99,298.57 94.63,298.09 95.27,297.61 95.91,297.13 96.55,296.65 97.19,296.18 97.84,295.7 98.49,295.23 99.13,294.76 99.78,294.29 100.43,293.82 101.08,293.36 101.74,292.9 102.39,292.43 103.05,291.98 103.7,291.52 104.36,291.06 105.02,290.6 105.68,290.15 106.33,289.69 106.99,289.23 107.65,288.78 108.3,288.32 108.96,287.86 109.61,287.4 110.27,286.93 110.92,286.47 111.57,286 112.22,285.54 112.87,285.07 113.51,284.61 114.16,284.15 114.82,283.69 115.48,283.25 116.14,282.81 116.81,282.39 117.49,281.99 118.18,281.6 118.88,281.23 119.58,280.88 120.3,280.55 121.03,280.24 121.76,279.94 122.51,279.66 123.26,279.39 124.01,279.13 124.77,278.88 125.53,278.63 126.29,278.39 127.05,278.15 127.81,277.91 128.58,277.67 129.34,277.42 130.1,277.17 130.85,276.92 131.61,276.65 132.36,276.38 133.1,276.1 133.85,275.8 134.58,275.5 135.31,275.18 136.03,274.85 136.74,274.5 137.44,274.13 138.12,273.74 138.78,273.33 139.43,272.89 140.05,272.43 140.64,271.94 141.21,271.42 141.74,270.87 142.24,270.3 142.71,269.69 143.15,269.06 143.54,268.41 143.9,267.73 144.23,267.03 144.53,266.31 144.79,265.58 145.02,264.84 145.23,264.08 145.42,263.31 145.58,262.54 145.72,261.76 145.85,260.97 145.96,260.19 146.07,259.4 146.16,258.6 146.24,257.81 146.32,257.01 146.4,256.22 146.47,255.42 146.54,254.62 146.61,253.82 146.68,253.03 146.74,252.23 146.81,251.43 146.88,250.63 146.94,249.83 147.01,249.04 147.07,248.24 147.14,247.44 147.2,246.64 147.27,245.85 147.34,245.05 147.4,244.25 147.47,243.45 147.53,242.65 147.6,241.86 147.67,241.06 147.73,240.26 147.8,239.46 147.86,238.66 147.93,237.87 148,237.07 148.06,236.27 148.13,235.47 148.19,234.67 148.26,233.88 148.32,233.08 148.39,232.28 148.46,231.48 148.53,230.69 148.61,229.9 148.69,229.11 148.78,228.33 148.88,227.56 149,226.79 149.15,226.05 149.32,225.32 149.52,224.61 149.76,223.93 150.04,223.29 150.38,222.67 150.76,222.09 151.19,221.55 151.67,221.04 152.2,220.56 152.76,220.11 153.37,219.69 154,219.29 154.67,218.91 155.35,218.54 156.04,218.19 156.75,217.84 157.47,217.5 158.19,217.16 158.91,216.83 159.64,216.5 160.37,216.18 161.1,215.85 161.84,215.53 162.57,215.21 163.31,214.9 164.04,214.58 164.78,214.27 165.52,213.96 166.26,213.66 167,213.36 167.75,213.06 168.49,212.77 169.24,212.49 169.99,212.2 170.74,211.93 171.49,211.66 172.25,211.39 173,211.13 173.76,210.88 174.52,210.63 175.28,210.38 176.05,210.15 176.81,209.91 177.58,209.68 178.35,209.46 179.12,209.23 179.89,209.02 180.66,208.8 181.43,208.59 182.2,208.38 182.98,208.18 183.75,207.97 184.53,207.77 185.3,207.57 186.08,207.38 186.85,207.18 187.63,206.99 188.41,206.8 189.19,206.61 189.96,206.42 190.74,206.23 191.52,206.05 192.3,205.86 193.08,205.68 193.86,205.5 194.64,205.32 195.42,205.15 196.2,204.98 196.99,204.81 197.77,204.64 198.55,204.48 199.34,204.32 200.12,204.16 200.91,204.01 201.7,203.86 202.48,203.72 203.27,203.58 204.06,203.44 204.85,203.31 205.64,203.18 206.43,203.05 207.22,202.93 208.01,202.81 208.8,202.69 209.6,202.58 210.39,202.47 211.18,202.36 211.98,202.25 212.77,202.15 213.56,202.04 214.36,201.94 215.15,201.84 215.95,201.74 216.74,201.65 217.54,201.55 218.33,201.46 219.13,201.36 219.92,201.27 220.72,201.18 221.51,201.09 222.31,201 223.1,200.92 223.9,200.83 224.7,200.74 225.49,200.66 226.29,200.57 227.09,200.49 227.88,200.4 228.68,200.32 229.47,200.24 230.27,200.16 231.07,200.08 231.86,200 232.66,199.92 233.46,199.85 234.26,199.77 235.05,199.69 235.85,199.62 236.65,199.54 237.44,199.47 238.24,199.4 239.04,199.32 239.84,199.25 240.63,199.18 241.43,199.11 242.23,199.03 243.03,198.96 243.82,198.89 244.62,198.82 245.42,198.74 246.22,198.67 247.01,198.6 247.81,198.52 248.61,198.45 249.4,198.37 250.2,198.3 251,198.22 251.8,198.15 252.59,198.07 253.39,198 254.19,197.92 254.98,197.84 255.78,197.77 256.58,197.69 257.38,197.61"/>
<polyline fill="none" stroke="#80e41a" stroke-width="1.1" stroke-linejoin="round" points="37.92,337.99 38.72,337.91 39.52,337.83 40.32,337.76 41.11,337.68 41.91,337.6 42.71,337.53 43.5,337.45 44.3,337.38 45.1,337.3 45.9,337.23 46.69,337.15 47.49,337.08 48.29,337 49.08,336.93 49.88,336.86 50.68,336.78 51.48,336.71 52.27,336.64 53.07,336.57 53.87,336.49 54.67,336.42 55.46,336.35 56.26,336.28 57.06,336.2 57.86,336.13 58.65,336.06 59.45,335.98 60.25,335.91 61.04,335.83 61.84,335.75 62.64,335.68 63.44,335.6 64.23,335.52 65.03,335.44 65.83,335.36 66.62,335.28 67.42,335.2 68.21,335.11 69.01,335.03 69.81,334.94 70.6,334.86 71.4,334.77 72.2,334.68 72.99,334.6 73.79,334.51 74.58,334.42 75.38,334.33 76.17,334.24 76.97,334.14 77.76,334.05 78.56,333.95 79.35,333.86 80.15,333.76 80.94,333.66 81.74,333.56 82.53,333.45 83.32,333.35 84.12,333.24 84.91,333.13 85.7,333.02 86.5,332.91 87.29,332.79 88.08,332.67 88.87,332.55 89.66,332.42 90.45,332.29 91.24,332.16 92.03,332.02 92.82,331.88 93.6,331.74 94.39,331.59 95.18,331.44 95.96,331.28 96.75,331.12 97.53,330.96 98.31,330.79 99.1,330.62 99.88,330.45 100.66,330.28 101.44,330.1 102.22,329.92 103,329.74 103.78,329.55 104.56,329.37 105.34,329.18 106.11,328.99 106.89,328.8 107.67,328.61 108.45,328.42 109.22,328.22 110,328.03 110.77,327.83 111.55,327.63 112.32,327.42 113.1,327.22 113.87,327.01 114.64,326.8 115.41,326.58 116.18,326.37 116.95,326.14 117.72,325.92 118.49,325.69 119.25,325.45 120.02,325.22 120.78,324.97 121.54,324.72 122.3,324.47 123.05,324.21 123.81,323.94 124.56,323.67 125.31,323.4 126.06,323.11 126.81,322.83 127.55,322.54 128.3,322.24 129.04,321.94 129.78,321.64 130.52,321.33 131.26,321.02 131.99,320.7 132.73,320.39 133.46,320.07 134.2,319.75 134.93,319.42 135.66,319.1 136.39,318.77 137.11,318.44 137.83,318.1 138.55,317.76 139.26,317.41 139.95,317.06 140.63,316.69 141.3,316.31 141.93,315.91 142.54,315.49 143.1,315.04 143.63,314.56 144.11,314.05 144.54,313.51 144.92,312.93 145.26,312.31 145.54,311.67 145.78,310.99 145.98,310.28 146.15,309.55 146.3,308.81 146.42,308.04 146.52,307.27 146.61,306.49 146.69,305.7 146.77,304.91 146.84,304.12 146.91,303.32 146.98,302.52 147.04,301.72 147.11,300.93 147.17,300.13 147.24,299.33 147.3,298.53 147.37,297.73 147.44,296.94 147.5,296.14 147.57,295.34 147.63,294.54 147.7,293.74 147.77,292.95 147.83,292.15 147.9,291.35 147.96,290.55 148.03,289.75 148.1,288.96 148.16,288.16 148.23,287.36 148.29,286.56 148.36,285.77 148.42,284.97 148.49,284.17 148.56,283.37 148.62,282.57 148.69,281.78 148.76,280.98 148.83,280.18 148.9,279.38 148.98,278.59 149.06,277.79 149.14,277 149.23,276.2 149.34,275.41 149.45,274.63 149.58,273.84 149.72,273.06 149.88,272.29 150.07,271.52 150.28,270.76 150.51,270.02 150.77,269.29 151.07,268.57 151.4,267.87 151.76,267.19 152.15,266.54 152.59,265.91 153.06,265.3 153.56,264.73 154.09,264.18 154.66,263.66 155.25,263.17 155.87,262.71 156.52,262.27 157.18,261.86 157.86,261.47 158.56,261.1 159.27,260.75 159.99,260.42 160.72,260.1 161.45,259.8 162.2,259.5 162.94,259.22 163.69,258.95 164.45,258.68 165.2,258.43 165.96,258.18 166.72,257.93 167.49,257.69 168.25,257.45 169.01,257.21 169.77,256.97 170.53,256.72 171.29,256.47 172.04,256.21 172.79,255.94 173.54,255.66 174.27,255.36 175,255.05 175.72,254.72 176.42,254.37 177.12,254 177.81,253.61 178.49,253.21 179.16,252.79 179.82,252.35 180.48,251.91 181.14,251.45 181.79,250.99 182.43,250.53 183.08,250.06 183.73,249.6 184.38,249.13 185.03,248.67 185.69,248.2 186.34,247.74 187,247.28 187.65,246.82 188.31,246.37 188.97,245.91 189.62,245.45 190.28,245 190.94,244.54 191.6,244.08 192.25,243.62 192.91,243.17 193.56,242.7 194.22,242.24 194.87,241.78 195.52,241.31 196.17,240.84 196.81,240.37 197.46,239.9 198.11,239.42 198.75,238.95 199.39,238.47 200.03,237.99 200.67,237.51 201.31,237.03 201.95,236.55 202.59,236.06 203.23,235.58 203.87,235.1 204.51,234.62 205.15,234.14 205.79,233.66 206.43,233.18 207.08,232.7 207.72,232.22 208.36,231.75 209.01,231.27 209.65,230.8 210.3,230.32 210.94,229.85 211.59,229.38 212.24,228.9 212.88,228.43 213.53,227.96 214.17,227.49 214.82,227.01 215.47,226.54 216.11,226.07 216.76,225.59 217.4,225.12 218.05,224.64 218.69,224.16 219.33,223.69 219.97,223.21 220.61,222.72 221.25,222.24 221.88,221.75 222.52,221.27 223.15,220.78 223.79,220.29 224.42,219.8 225.05,219.3 225.68,218.81 226.31,218.32 226.94,217.82 227.57,217.33 228.2,216.84 228.83,216.35 229.47,215.86 230.1,215.37 230.74,214.89 231.38,214.41 232.02,213.93 232.67,213.45 233.32,212.98 233.97,212.52 234.62,212.05 235.27,211.59 235.93,211.13 236.59,210.68 237.25,210.23 237.91,209.78 238.58,209.34 239.25,208.91 239.93,208.48 240.61,208.05 241.29,207.64 241.97,207.23 242.67,206.83 243.36,206.44 244.06,206.05 244.77,205.68 245.48,205.32 246.2,204.97 246.92,204.63 247.65,204.3 248.38,203.97 249.11,203.66 249.85,203.36 250.59,203.06 251.34,202.77 252.09,202.49 252.84,202.22 253.59,201.95 254.35,201.68 255.1,201.42 255.86,201.16 256.62,200.9 257.38,200.64"/>
<polyline fill="none" stroke="#18a828" stroke-width="1.1" stroke-linejoin="round" points="37.92,334.63 38.68,334.38 39.44,334.12 40.2,333.86 40.95,333.59 41.71,333.33 42.46,333.06 43.21,332.78 43.96,332.5 44.7,332.21 45.44,331.91 46.18,331.61 46.92,331.29 47.65,330.97 48.37,330.64 49.09,330.29 49.81,329.94 50.52,329.57 51.22,329.2 51.92,328.81 52.61,328.42 53.3,328.02 53.99,327.6 54.66,327.18 55.34,326.75 56.01,326.32 56.68,325.88 57.34,325.43 58,324.98 58.66,324.53 59.31,324.07 59.97,323.6 60.62,323.14 61.26,322.67 61.91,322.19 62.55,321.71 63.19,321.23 63.82,320.75 64.46,320.26 65.09,319.77 65.72,319.28 66.35,318.78 66.97,318.28 67.6,317.78 68.22,317.28 68.85,316.78 69.47,316.28 70.1,315.78 70.72,315.28 71.35,314.78 71.97,314.28 72.6,313.78 73.23,313.29 73.85,312.79 74.48,312.3 75.12,311.81 75.75,311.32 76.38,310.83 77.02,310.34 77.65,309.85 78.28,309.36 78.92,308.88 79.56,308.39 80.19,307.9 80.83,307.42 81.46,306.93 82.1,306.44 82.73,305.96 83.37,305.47 84,304.98 84.63,304.49 85.26,304 85.89,303.5 86.52,303.01 87.15,302.51 87.78,302.01 88.4,301.51 89.03,301.01 89.65,300.51 90.27,300.01 90.89,299.5 91.51,298.99 92.13,298.49 92.75,297.98 93.37,297.47 93.99,296.97 94.61,296.46 95.23,295.96 95.86,295.46 96.48,294.96 97.11,294.46 97.74,293.97 98.37,293.48 99,292.99 99.64,292.51 100.28,292.03 100.92,291.55 101.57,291.07 102.21,290.6 102.86,290.13 103.51,289.67 104.16,289.2 104.82,288.74 105.47,288.28 106.13,287.82 106.78,287.36 107.44,286.91 108.1,286.45 108.76,286 109.42,285.54 110.07,285.09 110.73,284.64 111.39,284.18 112.05,283.73 112.71,283.28 113.37,282.83 114.04,282.39 114.7,281.96 115.37,281.53 116.05,281.11 116.73,280.7 117.42,280.31 118.12,279.94 118.83,279.57 119.54,279.23 120.26,278.9 120.99,278.59 121.73,278.29 122.47,278 123.22,277.72 123.97,277.45 124.72,277.19 125.48,276.93 126.24,276.67 126.99,276.42 127.75,276.16 128.51,275.91 129.26,275.65 130.02,275.38 130.77,275.11 131.52,274.83 132.27,274.55 133.01,274.26 133.75,273.96 134.49,273.65 135.21,273.33 135.94,272.99 136.65,272.65 137.35,272.29 138.04,271.9 138.72,271.5 139.38,271.08 140.01,270.63 140.62,270.16 141.21,269.66 141.77,269.14 142.29,268.58 142.78,268 143.24,267.38 143.65,266.75 144.03,266.08 144.38,265.4 144.69,264.7 144.96,263.97 145.2,263.24 145.41,262.48 145.59,261.72 145.75,260.95 145.89,260.18 146.02,259.39 146.12,258.6 146.22,257.81 146.31,257.02 146.39,256.23 146.46,255.43 146.54,254.64 146.61,253.84 146.67,253.04 146.74,252.24 146.81,251.45 146.87,250.65 146.94,249.85 147.01,249.05 147.07,248.26 147.14,247.46 147.2,246.66 147.27,245.86 147.33,245.06 147.4,244.27 147.47,243.47 147.53,242.67 147.6,241.87 147.66,241.08 147.73,240.28 147.8,239.48 147.86,238.68 147.93,237.89 148,237.09 148.07,236.3 148.14,235.5 148.22,234.72 148.31,233.93 148.41,233.16 148.53,232.4 148.67,231.65 148.84,230.92 149.03,230.21 149.27,229.54 149.55,228.89 149.88,228.28 150.25,227.7 150.68,227.16 151.16,226.66 151.68,226.19 152.25,225.76 152.86,225.35 153.5,224.97 154.16,224.61 154.85,224.26 155.55,223.92 156.26,223.58 156.98,223.25 157.71,222.92 158.43,222.59 159.16,222.26 159.88,221.93 160.61,221.59 161.33,221.24 162.05,220.9 162.77,220.55 163.49,220.2 164.21,219.85 164.93,219.49 165.64,219.14 166.36,218.79 167.08,218.44 167.8,218.09 168.52,217.75 169.25,217.41 169.98,217.07 170.71,216.75 171.44,216.43 172.17,216.11 172.91,215.81 173.65,215.51 174.4,215.22 175.14,214.93 175.89,214.65 176.64,214.38 177.4,214.11 178.15,213.85 178.91,213.59 179.67,213.33 180.43,213.08 181.19,212.84 181.95,212.59 182.71,212.35 183.48,212.11 184.24,211.87 185,211.63 185.77,211.4 186.53,211.16 187.3,210.93 188.06,210.69 188.83,210.46 189.6,210.23 190.36,210 191.13,209.77 191.9,209.54 192.66,209.31 193.43,209.08 194.2,208.86 194.97,208.64 195.74,208.42 196.51,208.2 197.28,207.99 198.05,207.78 198.83,207.58 199.6,207.38 200.38,207.18 201.15,206.99 201.93,206.81 202.71,206.63 203.49,206.45 204.27,206.28 205.05,206.12 205.84,205.96 206.62,205.8 207.41,205.65 208.19,205.5 208.98,205.35 209.77,205.21 210.56,205.08 211.35,204.94 212.14,204.81 212.92,204.68 213.72,204.55 214.51,204.43 215.3,204.3 216.09,204.18 216.88,204.06 217.67,203.95 218.46,203.83 219.25,203.71 220.05,203.6 220.84,203.49 221.63,203.37 222.42,203.26 223.22,203.15 224.01,203.04 224.8,202.93 225.59,202.82 226.39,202.71 227.18,202.6 227.97,202.49 228.77,202.39 229.56,202.28 230.35,202.17 231.15,202.06 231.94,201.96 232.73,201.85 233.53,201.75 234.32,201.64 235.11,201.54 235.91,201.44 236.7,201.33 237.49,201.23 238.29,201.13 239.08,201.03 239.88,200.93 240.67,200.84 241.46,200.74 242.26,200.64 243.05,200.55 243.85,200.45 244.64,200.36 245.44,200.27 246.23,200.18 247.03,200.09 247.82,200 248.62,199.91 249.42,199.82 250.21,199.73 251.01,199.65 251.8,199.56 252.6,199.48 253.39,199.4 254.19,199.31 254.99,199.23 255.78,199.15 256.58,199.07 257.38,198.99"/>
<polyline fill="none" stroke="#18a828" stroke-width="1.1" stroke-linejoin="round" points="37.92,336.61 38.72,336.53 39.52,336.45 40.31,336.37 41.11,336.29 41.91,336.2 42.7,336.12 43.5,336.04 44.29,335.95 45.09,335.87 45.88,335.78 46.68,335.69 47.48,335.6 48.27,335.51 49.07,335.42 49.86,335.33 50.66,335.24 51.45,335.15 52.25,335.05 53.04,334.96 53.84,334.86 54.63,334.76 55.42,334.67 56.22,334.57 57.01,334.47 57.81,334.37 58.6,334.27 59.39,334.16 60.19,334.06 60.98,333.96 61.77,333.85 62.57,333.75 63.36,333.64 64.15,333.54 64.95,333.43 65.74,333.32 66.53,333.21 67.33,333.11 68.12,333 68.91,332.89 69.71,332.78 70.5,332.67 71.29,332.56 72.08,332.45 72.88,332.34 73.67,332.23 74.46,332.11 75.25,332 76.05,331.89 76.84,331.77 77.63,331.65 78.42,331.54 79.21,331.42 80,331.3 80.79,331.17 81.58,331.05 82.38,330.92 83.16,330.79 83.95,330.66 84.74,330.52 85.53,330.39 86.32,330.25 87.11,330.1 87.89,329.95 88.68,329.8 89.46,329.64 90.25,329.48 91.03,329.32 91.81,329.15 92.59,328.97 93.37,328.79 94.15,328.61 94.92,328.42 95.7,328.22 96.47,328.02 97.25,327.82 98.02,327.61 98.79,327.4 99.56,327.18 100.33,326.96 101.1,326.74 101.87,326.52 102.64,326.29 103.4,326.06 104.17,325.83 104.94,325.6 105.7,325.37 106.47,325.14 107.24,324.91 108,324.67 108.77,324.44 109.53,324.2 110.3,323.97 111.06,323.73 111.82,323.49 112.59,323.25 113.35,323.01 114.11,322.76 114.87,322.52 115.63,322.27 116.39,322.01 117.15,321.75 117.9,321.49 118.66,321.22 119.41,320.95 120.16,320.67 120.9,320.38 121.65,320.09 122.39,319.79 123.13,319.49 123.86,319.17 124.59,318.85 125.32,318.53 126.05,318.19 126.78,317.85 127.5,317.51 128.22,317.16 128.94,316.81 129.66,316.46 130.37,316.11 131.09,315.75 131.81,315.4 132.53,315.05 133.25,314.7 133.97,314.36 134.69,314.01 135.42,313.67 136.14,313.34 136.87,313.01 137.59,312.68 138.32,312.35 139.04,312.02 139.75,311.68 140.45,311.34 141.14,310.99 141.8,310.63 142.44,310.25 143.05,309.84 143.62,309.41 144.14,308.94 144.62,308.44 145.05,307.9 145.42,307.32 145.75,306.71 146.03,306.06 146.27,305.39 146.46,304.68 146.63,303.95 146.77,303.2 146.89,302.44 146.99,301.67 147.08,300.88 147.16,300.1 147.23,299.3 147.3,298.51 147.37,297.71 147.44,296.92 147.5,296.12 147.57,295.32 147.64,294.52 147.7,293.73 147.77,292.93 147.83,292.13 147.9,291.33 147.97,290.54 148.03,289.74 148.1,288.94 148.16,288.14 148.23,287.34 148.29,286.55 148.36,285.75 148.43,284.95 148.49,284.15 148.56,283.36 148.63,282.56 148.69,281.76 148.76,280.96 148.84,280.17 148.91,279.37 148.99,278.58 149.08,277.79 149.18,277 149.28,276.21 149.41,275.42 149.55,274.65 149.71,273.88 149.89,273.12 150.1,272.36 150.34,271.63 150.61,270.9 150.92,270.2 151.27,269.52 151.65,268.85 152.06,268.22 152.52,267.6 153.01,267.02 153.53,266.46 154.09,265.94 154.68,265.44 155.29,264.97 155.92,264.52 156.58,264.1 157.26,263.7 157.95,263.31 158.65,262.95 159.36,262.61 160.09,262.27 160.81,261.95 161.55,261.64 162.29,261.34 163.03,261.05 163.78,260.77 164.53,260.49 165.28,260.22 166.04,259.95 166.79,259.69 167.55,259.44 168.31,259.18 169.06,258.93 169.82,258.67 170.58,258.41 171.33,258.15 172.08,257.88 172.83,257.6 173.57,257.31 174.31,257.01 175.04,256.7 175.76,256.37 176.47,256.03 177.18,255.66 177.88,255.29 178.57,254.9 179.25,254.49 179.93,254.07 180.6,253.64 181.26,253.21 181.93,252.77 182.59,252.32 183.25,251.87 183.91,251.42 184.57,250.96 185.23,250.51 185.88,250.06 186.54,249.6 187.2,249.15 187.86,248.69 188.52,248.24 189.17,247.78 189.83,247.32 190.48,246.86 191.14,246.4 191.79,245.93 192.44,245.47 193.09,245 193.73,244.53 194.38,244.05 195.02,243.57 195.66,243.09 196.3,242.61 196.93,242.12 197.56,241.63 198.19,241.14 198.82,240.64 199.44,240.14 200.07,239.64 200.69,239.14 201.31,238.63 201.93,238.13 202.55,237.62 203.17,237.11 203.79,236.61 204.41,236.1 205.03,235.59 205.65,235.09 206.27,234.59 206.9,234.09 207.52,233.59 208.15,233.09 208.78,232.59 209.41,232.1 210.04,231.6 210.67,231.11 211.3,230.62 211.93,230.13 212.57,229.64 213.2,229.16 213.84,228.67 214.47,228.18 215.11,227.7 215.74,227.21 216.38,226.72 217.02,226.24 217.65,225.75 218.28,225.26 218.92,224.77 219.55,224.28 220.18,223.79 220.82,223.3 221.45,222.81 222.07,222.31 222.7,221.82 223.33,221.32 223.95,220.82 224.58,220.32 225.2,219.82 225.83,219.32 226.45,218.82 227.08,218.32 227.7,217.82 228.33,217.32 228.95,216.82 229.58,216.32 230.21,215.83 230.84,215.34 231.48,214.85 232.11,214.37 232.75,213.89 233.39,213.41 234.04,212.93 234.68,212.46 235.33,212 235.99,211.53 236.64,211.07 237.3,210.62 237.96,210.17 238.62,209.72 239.29,209.28 239.96,208.85 240.64,208.42 241.31,208 242,207.58 242.69,207.18 243.38,206.79 244.08,206.4 244.78,206.03 245.49,205.66 246.21,205.31 246.93,204.96 247.65,204.63 248.38,204.31 249.12,203.99 249.86,203.69 250.6,203.39 251.34,203.1 252.09,202.82 252.84,202.54 253.59,202.27 254.35,202.01 255.1,201.74 255.86,201.48 256.62,201.22 257.38,200.97"/>
<polyline fill="none" stroke="#30e8e8" stroke-width="1.1" stroke-linejoin="round" points="37.92,333.66 38.68,333.4 39.44,333.14 40.2,332.88 40.95,332.62 41.7,332.35 42.46,332.08 43.21,331.8 43.95,331.51 44.7,331.22 45.44,330.92 46.18,330.62 46.91,330.3 47.64,329.98 48.36,329.64 49.08,329.3 49.8,328.94 50.51,328.57 51.21,328.2 51.91,327.81 52.6,327.41 53.29,327.01 53.97,326.59 54.65,326.17 55.32,325.74 55.99,325.3 56.66,324.86 57.32,324.41 57.97,323.95 58.63,323.49 59.28,323.03 59.93,322.56 60.57,322.08 61.21,321.61 61.85,321.13 62.49,320.64 63.12,320.15 63.76,319.66 64.39,319.17 65.01,318.67 65.64,318.17 66.26,317.67 66.89,317.17 67.51,316.66 68.13,316.16 68.75,315.65 69.37,315.15 69.99,314.64 70.61,314.13 71.23,313.63 71.85,313.12 72.47,312.62 73.1,312.12 73.72,311.62 74.34,311.12 74.97,310.62 75.6,310.12 76.22,309.62 76.85,309.12 77.48,308.63 78.1,308.13 78.73,307.63 79.36,307.13 79.99,306.64 80.61,306.14 81.24,305.64 81.86,305.14 82.49,304.64 83.11,304.13 83.73,303.63 84.35,303.12 84.97,302.61 85.58,302.1 86.2,301.59 86.81,301.07 87.42,300.56 88.03,300.03 88.63,299.51 89.24,298.98 89.84,298.46 90.44,297.93 91.04,297.4 91.63,296.86 92.23,296.33 92.83,295.8 93.43,295.27 94.03,294.74 94.63,294.21 95.23,293.69 95.84,293.16 96.45,292.64 97.06,292.13 97.67,291.62 98.29,291.11 98.91,290.61 99.54,290.11 100.17,289.62 100.8,289.13 101.44,288.64 102.08,288.16 102.72,287.69 103.37,287.22 104.02,286.75 104.67,286.28 105.32,285.82 105.98,285.37 106.64,284.91 107.3,284.46 107.96,284.01 108.63,283.57 109.29,283.12 109.96,282.68 110.63,282.25 111.3,281.81 111.98,281.38 112.65,280.95 113.33,280.53 114.01,280.11 114.7,279.7 115.39,279.3 116.08,278.91 116.78,278.53 117.49,278.16 118.2,277.8 118.91,277.45 119.64,277.12 120.36,276.79 121.1,276.48 121.84,276.18 122.58,275.89 123.33,275.6 124.07,275.32 124.82,275.05 125.58,274.77 126.33,274.5 127.08,274.22 127.83,273.95 128.58,273.67 129.33,273.39 130.08,273.11 130.83,272.82 131.57,272.53 132.31,272.23 133.05,271.92 133.79,271.61 134.52,271.3 135.25,270.97 135.97,270.63 136.69,270.29 137.4,269.93 138.1,269.56 138.78,269.17 139.46,268.76 140.11,268.33 140.74,267.88 141.35,267.41 141.93,266.91 142.48,266.38 142.99,265.82 143.47,265.23 143.9,264.62 144.29,263.98 144.65,263.31 144.96,262.62 145.23,261.91 145.47,261.18 145.67,260.44 145.84,259.68 145.99,258.91 146.12,258.13 146.23,257.35 146.33,256.56 146.41,255.77 146.5,254.98 146.57,254.18 146.64,253.39 146.71,252.59 146.78,251.79 146.84,251 146.91,250.2 146.98,249.4 147.04,248.6 147.11,247.81 147.17,247.01 147.24,246.21 147.31,245.41 147.37,244.61 147.44,243.82 147.5,243.02 147.57,242.22 147.64,241.42 147.71,240.63 147.78,239.83 147.85,239.04 147.93,238.25 148.03,237.47 148.13,236.7 148.25,235.94 148.39,235.2 148.56,234.47 148.76,233.77 149.01,233.1 149.29,232.47 149.63,231.87 150.02,231.31 150.46,230.8 150.95,230.32 151.49,229.89 152.08,229.49 152.7,229.12 153.36,228.78 154.04,228.46 154.75,228.15 155.47,227.86 156.2,227.58 156.94,227.29 157.68,227.01 158.42,226.72 159.16,226.42 159.9,226.12 160.63,225.81 161.37,225.49 162.1,225.17 162.82,224.83 163.54,224.49 164.27,224.14 164.98,223.79 165.7,223.44 166.42,223.09 167.14,222.73 167.86,222.38 168.58,222.04 169.3,221.69 170.02,221.35 170.75,221.02 171.48,220.7 172.21,220.38 172.95,220.07 173.69,219.77 174.43,219.47 175.18,219.19 175.93,218.91 176.68,218.63 177.43,218.36 178.19,218.1 178.94,217.84 179.7,217.59 180.46,217.34 181.22,217.09 181.99,216.84 182.75,216.6 183.51,216.36 184.27,216.12 185.04,215.88 185.8,215.64 186.56,215.4 187.33,215.16 188.09,214.92 188.86,214.68 189.62,214.44 190.38,214.2 191.15,213.96 191.91,213.72 192.68,213.49 193.44,213.25 194.21,213.01 194.97,212.78 195.74,212.55 196.51,212.32 197.27,212.09 198.04,211.87 198.81,211.65 199.58,211.43 200.35,211.22 201.12,211 201.9,210.8 202.67,210.59 203.44,210.39 204.22,210.19 205,210 205.77,209.81 206.55,209.62 207.33,209.44 208.11,209.26 208.89,209.08 209.67,208.91 210.45,208.74 211.24,208.57 212.02,208.4 212.8,208.23 213.59,208.07 214.37,207.91 215.15,207.75 215.94,207.59 216.72,207.44 217.51,207.28 218.29,207.13 219.08,206.98 219.87,206.82 220.65,206.67 221.44,206.52 222.23,206.38 223.01,206.23 223.8,206.08 224.59,205.93 225.37,205.78 226.16,205.63 226.95,205.49 227.73,205.34 228.52,205.19 229.31,205.04 230.09,204.89 230.88,204.75 231.67,204.6 232.45,204.45 233.24,204.3 234.03,204.16 234.81,204.01 235.6,203.86 236.39,203.72 237.17,203.58 237.96,203.43 238.75,203.29 239.54,203.15 240.33,203.02 241.12,202.88 241.91,202.75 242.7,202.62 243.49,202.49 244.28,202.37 245.07,202.25 245.86,202.13 246.65,202.01 247.44,201.9 248.24,201.79 249.03,201.68 249.82,201.58 250.62,201.48 251.41,201.38 252.21,201.28 253,201.19 253.8,201.1 254.59,201.01 255.39,200.92 256.18,200.83 256.98,200.74"/>
<polyline fill="none" stroke="#30e8e8" stroke-width="1.1" stroke-linejoin="round" points="37.92,334.9 38.72,334.81 39.52,334.72 40.31,334.64 41.11,334.55 41.9,334.46 42.7,334.36 43.49,334.27 44.29,334.17 45.08,334.07 45.87,333.97 46.67,333.86 47.46,333.76 48.25,333.64 49.05,333.53 49.84,333.41 50.63,333.29 51.42,333.17 52.21,333.04 53,332.92 53.79,332.78 54.58,332.65 55.37,332.51 56.16,332.38 56.94,332.24 57.73,332.1 58.52,331.95 59.31,331.81 60.09,331.66 60.88,331.52 61.67,331.37 62.45,331.22 63.24,331.08 64.03,330.93 64.81,330.78 65.6,330.63 66.39,330.48 67.17,330.34 67.96,330.19 68.75,330.04 69.53,329.89 70.32,329.74 71.11,329.6 71.89,329.45 72.68,329.3 73.47,329.15 74.25,329 75.04,328.85 75.83,328.7 76.61,328.55 77.4,328.39 78.18,328.24 78.97,328.08 79.75,327.93 80.54,327.77 81.32,327.61 82.11,327.45 82.89,327.28 83.67,327.12 84.46,326.95 85.24,326.78 86.02,326.6 86.8,326.43 87.58,326.25 88.36,326.07 89.14,325.88 89.92,325.7 90.69,325.5 91.47,325.31 92.24,325.11 93.02,324.91 93.79,324.7 94.56,324.49 95.33,324.28 96.1,324.06 96.87,323.84 97.64,323.62 98.41,323.39 99.18,323.16 99.94,322.93 100.71,322.7 101.48,322.47 102.24,322.23 103.01,322 103.77,321.76 104.53,321.52 105.3,321.28 106.06,321.04 106.83,320.8 107.59,320.56 108.35,320.32 109.12,320.08 109.88,319.84 110.64,319.6 111.41,319.36 112.17,319.12 112.93,318.88 113.7,318.63 114.46,318.39 115.22,318.14 115.98,317.88 116.73,317.63 117.49,317.37 118.25,317.1 119,316.83 119.75,316.55 120.5,316.27 121.24,315.98 121.98,315.68 122.72,315.38 123.46,315.06 124.19,314.74 124.92,314.41 125.64,314.08 126.36,313.74 127.08,313.39 127.8,313.04 128.52,312.69 129.24,312.33 129.96,311.98 130.67,311.63 131.39,311.28 132.12,310.94 132.84,310.6 133.57,310.27 134.3,309.95 135.03,309.63 135.77,309.33 136.51,309.03 137.25,308.74 137.99,308.45 138.73,308.17 139.47,307.88 140.19,307.59 140.9,307.3 141.6,306.99 142.27,306.66 142.91,306.3 143.52,305.92 144.08,305.5 144.6,305.05 145.07,304.55 145.48,304.01 145.84,303.43 146.15,302.82 146.42,302.17 146.64,301.48 146.83,300.77 146.98,300.03 147.11,299.28 147.23,298.51 147.32,297.74 147.41,296.95 147.49,296.16 147.56,295.37 147.63,294.57 147.7,293.78 147.76,292.98 147.83,292.18 147.89,291.38 147.96,290.59 148.03,289.79 148.09,288.99 148.16,288.19 148.22,287.4 148.29,286.6 148.36,285.8 148.42,285 148.49,284.2 148.56,283.41 148.62,282.61 148.69,281.81 148.77,281.02 148.84,280.22 148.93,279.43 149.02,278.64 149.12,277.86 149.24,277.08 149.38,276.3 149.54,275.54 149.73,274.79 149.95,274.05 150.2,273.33 150.49,272.63 150.82,271.95 151.2,271.3 151.61,270.67 152.07,270.07 152.56,269.5 153.09,268.95 153.66,268.44 154.25,267.95 154.87,267.49 155.51,267.05 156.18,266.63 156.86,266.23 157.55,265.85 158.25,265.49 158.97,265.14 159.69,264.8 160.41,264.47 161.15,264.14 161.88,263.83 162.62,263.52 163.36,263.22 164.1,262.93 164.85,262.64 165.59,262.35 166.34,262.07 167.09,261.79 167.84,261.51 168.6,261.24 169.35,260.97 170.1,260.69 170.85,260.42 171.6,260.14 172.35,259.85 173.09,259.57 173.83,259.27 174.57,258.96 175.3,258.65 176.03,258.32 176.75,257.98 177.46,257.63 178.17,257.26 178.87,256.88 179.57,256.5 180.26,256.1 180.94,255.69 181.63,255.28 182.31,254.86 182.98,254.43 183.66,254.01 184.33,253.57 185,253.14 185.67,252.7 186.34,252.26 187,251.81 187.67,251.36 188.33,250.91 188.99,250.46 189.65,250.01 190.3,249.55 190.96,249.08 191.61,248.62 192.25,248.15 192.9,247.67 193.54,247.2 194.18,246.71 194.81,246.23 195.44,245.74 196.07,245.24 196.7,244.74 197.32,244.24 197.93,243.73 198.55,243.21 199.16,242.7 199.77,242.18 200.37,241.65 200.97,241.13 201.57,240.6 202.17,240.07 202.77,239.53 203.37,239 203.97,238.47 204.56,237.94 205.16,237.41 205.76,236.88 206.37,236.35 206.97,235.83 207.58,235.3 208.19,234.79 208.8,234.27 209.41,233.75 210.02,233.24 210.64,232.73 211.26,232.22 211.88,231.72 212.5,231.22 213.13,230.71 213.75,230.21 214.38,229.71 215,229.21 215.63,228.72 216.25,228.22 216.88,227.72 217.51,227.22 218.14,226.73 218.76,226.23 219.39,225.73 220.02,225.23 220.64,224.73 221.27,224.23 221.89,223.73 222.52,223.23 223.14,222.73 223.76,222.22 224.38,221.72 225,221.21 225.62,220.71 226.24,220.2 226.86,219.7 227.48,219.19 228.1,218.68 228.73,218.18 229.35,217.68 229.97,217.18 230.6,216.68 231.23,216.18 231.86,215.69 232.49,215.2 233.13,214.72 233.77,214.23 234.41,213.75 235.05,213.28 235.7,212.81 236.35,212.34 237,211.88 237.65,211.42 238.31,210.97 238.98,210.52 239.64,210.08 240.31,209.64 240.99,209.22 241.67,208.8 242.35,208.39 243.04,207.99 243.74,207.59 244.44,207.21 245.15,206.84 245.86,206.48 246.58,206.13 247.3,205.79 248.02,205.46 248.76,205.14 249.49,204.83 250.23,204.53 250.97,204.23 251.72,203.94 252.47,203.66 253.22,203.39 253.97,203.12 254.73,202.85 255.48,202.59 256.24,202.33 257,202.07"/>
<polyline fill="none" stroke="#2b48b8" stroke-width="1.1" stroke-linejoin="round" points="37.92,332.85 38.68,332.59 39.44,332.33 40.2,332.07 40.95,331.8 41.7,331.53 42.46,331.26 43.21,330.98 43.95,330.69 44.7,330.4 45.44,330.1 46.18,329.79 46.91,329.47 47.64,329.15 48.36,328.81 49.08,328.46 49.79,328.1 50.5,327.74 51.21,327.36 51.9,326.97 52.6,326.57 53.28,326.16 53.96,325.74 54.64,325.32 55.31,324.88 55.98,324.44 56.64,323.99 57.3,323.54 57.95,323.08 58.61,322.62 59.25,322.15 59.9,321.67 60.54,321.19 61.18,320.71 61.81,320.22 62.44,319.73 63.07,319.24 63.7,318.74 64.33,318.24 64.95,317.74 65.57,317.23 66.19,316.72 66.81,316.21 67.43,315.7 68.04,315.19 68.66,314.68 69.28,314.17 69.89,313.66 70.51,313.15 71.13,312.64 71.74,312.13 72.36,311.62 72.98,311.11 73.6,310.6 74.22,310.09 74.84,309.59 75.46,309.08 76.08,308.58 76.7,308.07 77.32,307.56 77.95,307.06 78.57,306.55 79.19,306.04 79.8,305.54 80.42,305.03 81.04,304.52 81.66,304 82.27,303.49 82.88,302.97 83.49,302.46 84.1,301.94 84.71,301.41 85.31,300.89 85.91,300.36 86.51,299.83 87.11,299.29 87.7,298.76 88.29,298.21 88.88,297.67 89.46,297.12 90.04,296.57 90.63,296.02 91.2,295.47 91.78,294.91 92.36,294.36 92.94,293.81 93.52,293.25 94.1,292.7 94.68,292.16 95.27,291.61 95.86,291.07 96.45,290.53 97.05,290 97.65,289.48 98.26,288.95 98.87,288.44 99.49,287.93 100.11,287.43 100.74,286.93 101.37,286.43 102,285.95 102.64,285.46 103.28,284.99 103.93,284.51 104.58,284.05 105.23,283.58 105.89,283.13 106.55,282.67 107.21,282.23 107.88,281.78 108.55,281.35 109.22,280.91 109.9,280.48 110.58,280.06 111.26,279.64 111.94,279.23 112.63,278.83 113.33,278.43 114.02,278.03 114.72,277.65 115.43,277.27 116.14,276.9 116.85,276.54 117.57,276.19 118.29,275.85 119.02,275.52 119.75,275.19 120.48,274.88 121.22,274.57 121.96,274.27 122.7,273.97 123.45,273.67 124.19,273.38 124.94,273.09 125.69,272.81 126.43,272.52 127.18,272.23 127.92,271.93 128.67,271.64 129.41,271.34 130.15,271.04 130.9,270.74 131.63,270.43 132.37,270.12 133.11,269.8 133.84,269.48 134.57,269.16 135.3,268.83 136.03,268.49 136.75,268.15 137.46,267.8 138.17,267.44 138.87,267.07 139.56,266.68 140.23,266.28 140.88,265.86 141.51,265.41 142.11,264.94 142.68,264.45 143.21,263.93 143.7,263.38 144.14,262.79 144.54,262.18 144.9,261.54 145.21,260.87 145.47,260.18 145.7,259.46 145.89,258.72 146.05,257.97 146.18,257.21 146.3,256.43 146.4,255.65 146.49,254.86 146.57,254.07 146.65,253.28 146.72,252.48 146.79,251.68 146.85,250.89 146.92,250.09 146.99,249.29 147.05,248.49 147.12,247.69 147.18,246.9 147.25,246.1 147.32,245.3 147.39,244.51 147.47,243.72 147.55,242.93 147.64,242.15 147.75,241.38 147.87,240.62 148.02,239.87 148.19,239.15 148.4,238.45 148.65,237.78 148.94,237.14 149.28,236.54 149.67,235.97 150.11,235.44 150.6,234.95 151.14,234.49 151.72,234.06 152.34,233.67 152.99,233.29 153.66,232.94 154.36,232.6 155.07,232.27 155.79,231.95 156.52,231.64 157.25,231.34 157.99,231.04 158.74,230.74 159.48,230.45 160.23,230.17 160.98,229.88 161.73,229.6 162.48,229.32 163.23,229.05 163.98,228.78 164.74,228.5 165.49,228.24 166.24,227.97 167,227.7 167.75,227.43 168.51,227.16 169.26,226.89 170.02,226.62 170.77,226.35 171.52,226.08 172.28,225.8 173.03,225.52 173.78,225.25 174.53,224.97 175.28,224.68 176.03,224.4 176.78,224.12 177.52,223.83 178.27,223.54 179.02,223.26 179.77,222.97 180.51,222.68 181.26,222.4 182.01,222.11 182.76,221.83 183.51,221.54 184.26,221.26 185.01,220.98 185.76,220.7 186.51,220.42 187.26,220.15 188.01,219.87 188.77,219.6 189.52,219.33 190.27,219.05 191.03,218.78 191.78,218.52 192.54,218.25 193.29,217.98 194.05,217.72 194.81,217.46 195.56,217.2 196.32,216.94 197.08,216.69 197.84,216.44 198.6,216.19 199.36,215.94 200.13,215.7 200.89,215.46 201.66,215.22 202.42,214.99 203.19,214.76 203.96,214.54 204.73,214.32 205.5,214.1 206.27,213.89 207.04,213.67 207.82,213.47 208.59,213.26 209.37,213.06 210.14,212.86 210.92,212.66 211.69,212.46 212.47,212.27 213.25,212.08 214.03,211.89 214.81,211.71 215.59,211.52 216.37,211.34 217.15,211.16 217.93,210.98 218.71,210.81 219.49,210.63 220.27,210.46 221.05,210.29 221.84,210.12 222.62,209.95 223.4,209.79 224.19,209.62 224.97,209.46 225.76,209.3 226.54,209.14 227.33,208.98 228.11,208.82 228.9,208.66 229.68,208.51 230.47,208.36 231.25,208.2 232.04,208.05 232.83,207.9 233.61,207.75 234.4,207.6 235.19,207.45 235.98,207.31 236.76,207.16 237.55,207.02 238.34,206.88 239.13,206.74 239.92,206.61 240.71,206.47 241.5,206.34 242.29,206.21 243.08,206.08 243.87,205.96 244.66,205.84 245.45,205.72 246.25,205.61 247.04,205.49 247.83,205.38 248.63,205.28 249.42,205.17 250.21,205.07 251.01,204.97 251.8,204.88 252.6,204.78 253.4,204.69 254.19,204.6 254.99,204.51 255.78,204.42 256.58,204.33 257.38,204.25"/>
<polyline fill="none" stroke="#2b48b8" stroke-width="1.1" stroke-linejoin="round" points="37.92,331.35 38.72,331.27 39.52,331.18 40.31,331.09 41.11,331 41.9,330.91 42.7,330.82 43.5,330.72 44.29,330.63 45.09,330.53 45.88,330.43 46.67,330.32 47.47,330.22 48.26,330.11 49.05,329.99 49.85,329.88 50.64,329.76 51.43,329.64 52.22,329.52 53.01,329.39 53.8,329.26 54.59,329.13 55.38,328.99 56.17,328.86 56.96,328.72 57.75,328.58 58.54,328.44 59.32,328.29 60.11,328.15 60.9,328 61.69,327.85 62.47,327.7 63.26,327.55 64.05,327.4 64.83,327.24 65.62,327.09 66.4,326.94 67.19,326.78 67.97,326.62 68.76,326.46 69.54,326.3 70.33,326.14 71.11,325.98 71.9,325.81 72.68,325.65 73.46,325.48 74.25,325.31 75.03,325.14 75.81,324.97 76.59,324.79 77.37,324.62 78.15,324.44 78.93,324.26 79.71,324.08 80.49,323.89 81.27,323.71 82.05,323.52 82.83,323.33 83.61,323.14 84.38,322.94 85.16,322.74 85.93,322.54 86.71,322.34 87.48,322.13 88.26,321.93 89.03,321.71 89.8,321.5 90.57,321.28 91.34,321.06 92.11,320.84 92.88,320.61 93.64,320.38 94.41,320.14 95.17,319.9 95.94,319.66 96.7,319.41 97.46,319.16 98.22,318.91 98.98,318.66 99.74,318.4 100.49,318.14 101.25,317.88 102.01,317.62 102.76,317.35 103.52,317.08 104.27,316.82 105.03,316.55 105.78,316.27 106.53,316 107.29,315.73 108.04,315.45 108.79,315.18 109.54,314.9 110.29,314.62 111.04,314.34 111.79,314.06 112.54,313.77 113.29,313.49 114.04,313.2 114.79,312.92 115.53,312.63 116.28,312.34 117.03,312.06 117.78,311.77 118.52,311.48 119.27,311.2 120.02,310.92 120.77,310.63 121.52,310.35 122.27,310.08 123.02,309.8 123.78,309.52 124.53,309.25 125.28,308.98 126.04,308.71 126.79,308.44 127.55,308.17 128.3,307.9 129.06,307.63 129.81,307.36 130.56,307.1 131.32,306.82 132.07,306.55 132.82,306.28 133.57,306 134.32,305.72 135.07,305.43 135.82,305.15 136.56,304.86 137.31,304.56 138.05,304.26 138.78,303.96 139.51,303.65 140.23,303.33 140.94,303 141.64,302.66 142.31,302.31 142.96,301.93 143.58,301.54 144.16,301.11 144.7,300.65 145.19,300.16 145.63,299.63 146.02,299.06 146.36,298.46 146.65,297.82 146.9,297.15 147.11,296.45 147.28,295.73 147.43,294.98 147.55,294.22 147.66,293.45 147.75,292.67 147.83,291.88 147.91,291.09 147.98,290.3 148.05,289.5 148.12,288.7 148.18,287.91 148.25,287.11 148.31,286.31 148.38,285.51 148.45,284.71 148.51,283.92 148.58,283.12 148.65,282.32 148.73,281.53 148.81,280.74 148.9,279.95 149,279.17 149.12,278.39 149.25,277.63 149.41,276.88 149.6,276.14 149.83,275.42 150.09,274.73 150.4,274.06 150.76,273.42 151.16,272.81 151.6,272.22 152.09,271.67 152.62,271.15 153.19,270.66 153.79,270.19 154.42,269.74 155.07,269.32 155.74,268.92 156.43,268.53 157.13,268.16 157.84,267.8 158.55,267.45 159.27,267.11 160,266.77 160.73,266.44 161.46,266.12 162.19,265.8 162.93,265.48 163.67,265.17 164.4,264.86 165.15,264.56 165.89,264.26 166.63,263.96 167.38,263.67 168.12,263.37 168.87,263.08 169.61,262.79 170.36,262.51 171.11,262.22 171.85,261.93 172.6,261.63 173.34,261.33 174.08,261.03 174.82,260.72 175.55,260.41 176.28,260.08 177.01,259.75 177.73,259.41 178.45,259.06 179.16,258.7 179.87,258.33 180.58,257.95 181.28,257.57 181.97,257.17 182.67,256.77 183.36,256.37 184.04,255.96 184.72,255.54 185.4,255.12 186.08,254.69 186.75,254.25 187.42,253.82 188.09,253.37 188.75,252.93 189.41,252.47 190.07,252.02 190.72,251.55 191.37,251.09 192.02,250.61 192.66,250.14 193.3,249.65 193.93,249.17 194.56,248.67 195.19,248.17 195.81,247.67 196.43,247.16 197.04,246.65 197.65,246.12 198.25,245.6 198.85,245.07 199.44,244.53 200.03,243.99 200.62,243.44 201.2,242.9 201.78,242.35 202.36,241.79 202.94,241.24 203.52,240.69 204.1,240.13 204.67,239.58 205.26,239.03 205.84,238.48 206.42,237.93 207.01,237.39 207.6,236.84 208.19,236.31 208.79,235.77 209.39,235.24 209.99,234.71 210.59,234.19 211.2,233.66 211.81,233.14 212.42,232.63 213.03,232.11 213.64,231.6 214.26,231.08 214.88,230.57 215.5,230.06 216.11,229.56 216.73,229.05 217.35,228.54 217.98,228.04 218.6,227.53 219.22,227.02 219.84,226.52 220.46,226.01 221.08,225.51 221.7,225 222.32,224.49 222.94,223.98 223.56,223.47 224.17,222.96 224.79,222.45 225.41,221.94 226.02,221.43 226.64,220.92 227.26,220.41 227.87,219.9 228.49,219.39 229.11,218.88 229.73,218.37 230.35,217.86 230.97,217.36 231.6,216.86 232.23,216.36 232.86,215.87 233.49,215.38 234.12,214.89 234.76,214.41 235.4,213.93 236.05,213.45 236.69,212.98 237.35,212.52 238,212.06 238.66,211.61 239.32,211.16 239.99,210.72 240.66,210.28 241.34,209.86 242.02,209.44 242.7,209.03 243.4,208.63 244.09,208.24 244.8,207.86 245.51,207.5 246.22,207.14 246.94,206.79 247.66,206.45 248.39,206.13 249.12,205.81 249.86,205.5 250.6,205.2 251.35,204.91 252.09,204.62 252.84,204.34 253.6,204.07 254.35,203.8 255.1,203.53 255.86,203.27 256.62,203.01 257.38,202.75"/>
<polyline fill="none" stroke="#e86ce8" stroke-width="1.1" stroke-linejoin="round" points="37.92,327.58 38.68,327.32 39.43,327.05 40.19,326.78 40.94,326.5 41.69,326.23 42.44,325.95 43.19,325.66 43.94,325.38 44.68,325.08 45.42,324.78 46.16,324.47 46.9,324.15 47.63,323.83 48.35,323.5 49.08,323.16 49.8,322.81 50.51,322.46 51.22,322.09 51.93,321.72 52.63,321.34 53.33,320.95 54.02,320.55 54.71,320.14 55.4,319.73 56.08,319.3 56.75,318.87 57.42,318.44 58.09,317.99 58.75,317.54 59.41,317.09 60.06,316.63 60.71,316.16 61.36,315.69 62,315.22 62.65,314.74 63.29,314.26 63.93,313.78 64.57,313.3 65.21,312.81 65.85,312.33 66.48,311.85 67.12,311.36 67.76,310.88 68.4,310.4 69.04,309.92 69.68,309.44 70.32,308.96 70.97,308.48 71.61,308 72.25,307.52 72.9,307.05 73.54,306.57 74.19,306.09 74.83,305.62 75.47,305.14 76.12,304.66 76.76,304.18 77.4,303.7 78.04,303.22 78.68,302.74 79.32,302.26 79.95,301.77 80.59,301.28 81.22,300.79 81.85,300.3 82.48,299.8 83.11,299.3 83.73,298.8 84.35,298.3 84.97,297.78 85.58,297.27 86.19,296.75 86.8,296.23 87.4,295.7 88,295.17 88.59,294.63 89.18,294.09 89.77,293.55 90.36,293 90.94,292.46 91.52,291.91 92.11,291.36 92.7,290.82 93.28,290.27 93.87,289.73 94.47,289.2 95.06,288.66 95.67,288.14 96.28,287.62 96.89,287.11 97.51,286.61 98.14,286.11 98.77,285.62 99.41,285.14 100.05,284.67 100.71,284.2 101.36,283.75 102.02,283.3 102.69,282.85 103.36,282.41 104.03,281.98 104.71,281.56 105.39,281.14 106.07,280.72 106.76,280.31 107.45,279.91 108.15,279.51 108.84,279.11 109.54,278.73 110.24,278.34 110.95,277.96 111.66,277.59 112.37,277.22 113.08,276.86 113.8,276.5 114.52,276.15 115.24,275.81 115.97,275.47 116.69,275.13 117.42,274.81 118.15,274.48 118.89,274.16 119.63,273.85 120.36,273.54 121.1,273.24 121.85,272.93 122.59,272.63 123.33,272.33 124.07,272.03 124.82,271.74 125.56,271.44 126.3,271.14 127.04,270.83 127.79,270.53 128.53,270.22 129.26,269.92 130,269.6 130.74,269.29 131.47,268.97 132.21,268.65 132.94,268.33 133.67,268.01 134.41,267.68 135.14,267.35 135.86,267.02 136.59,266.68 137.31,266.34 138.03,266 138.74,265.64 139.44,265.28 140.13,264.91 140.8,264.53 141.45,264.13 142.07,263.71 142.66,263.27 143.21,262.8 143.72,262.31 144.18,261.77 144.59,261.21 144.96,260.61 145.27,259.98 145.54,259.32 145.77,258.63 145.96,257.91 146.12,257.18 146.26,256.42 146.37,255.66 146.47,254.88 146.56,254.09 146.64,253.31 146.71,252.51 146.78,251.72 146.85,250.92 146.92,250.13 147,249.33 147.08,248.54 147.16,247.76 147.26,246.98 147.37,246.21 147.5,245.46 147.66,244.72 147.84,244.01 148.07,243.32 148.33,242.67 148.64,242.05 149,241.46 149.42,240.92 149.88,240.42 150.4,239.96 150.96,239.53 151.57,239.14 152.21,238.78 152.88,238.45 153.57,238.13 154.29,237.84 155.02,237.55 155.75,237.27 156.5,237 157.25,236.74 158,236.47 158.76,236.21 159.51,235.94 160.27,235.67 161.02,235.4 161.77,235.13 162.53,234.85 163.28,234.57 164.03,234.29 164.78,234.01 165.53,233.73 166.28,233.45 167.02,233.16 167.77,232.88 168.52,232.59 169.27,232.31 170.02,232.03 170.77,231.74 171.52,231.46 172.27,231.18 173.02,230.9 173.77,230.63 174.53,230.35 175.28,230.07 176.03,229.8 176.78,229.53 177.54,229.25 178.29,228.98 179.04,228.71 179.8,228.44 180.55,228.17 181.31,227.9 182.06,227.63 182.82,227.37 183.57,227.1 184.33,226.83 185.08,226.57 185.84,226.3 186.59,226.03 187.35,225.77 188.1,225.5 188.86,225.24 189.62,224.97 190.37,224.7 191.13,224.44 191.88,224.17 192.64,223.91 193.39,223.64 194.15,223.38 194.91,223.12 195.67,222.86 196.42,222.6 197.18,222.35 197.94,222.09 198.7,221.84 199.47,221.6 200.23,221.35 200.99,221.11 201.76,220.88 202.53,220.65 203.29,220.42 204.06,220.2 204.83,219.98 205.61,219.77 206.38,219.56 207.15,219.36 207.93,219.16 208.71,218.97 209.48,218.78 210.26,218.59 211.04,218.4 211.82,218.22 212.6,218.04 213.38,217.87 214.16,217.69 214.95,217.52 215.73,217.34 216.51,217.17 217.29,217 218.07,216.82 218.86,216.65 219.64,216.47 220.42,216.29 221.2,216.11 221.98,215.92 222.76,215.74 223.53,215.55 224.31,215.35 225.08,215.15 225.86,214.94 226.63,214.73 227.4,214.51 228.16,214.28 228.93,214.05 229.69,213.81 230.45,213.56 231.21,213.31 231.97,213.05 232.73,212.78 233.48,212.52 234.23,212.24 234.98,211.97 235.74,211.69 236.49,211.41 237.24,211.13 237.99,210.85 238.74,210.57 239.49,210.3 240.24,210.03 241,209.77 241.76,209.51 242.52,209.26 243.28,209.01 244.04,208.78 244.81,208.55 245.58,208.34 246.35,208.14 247.13,207.95 247.9,207.77 248.68,207.6 249.47,207.44 250.25,207.29 251.04,207.14 251.83,207.01 252.62,206.89 253.41,206.77 254.2,206.65 254.99,206.54 255.79,206.43 256.58,206.32 257.38,206.22"/>
<polyline fill="none" stroke="#e86ce8" stroke-width="1.1" stroke-linejoin="round" points="37.92,329.38 38.72,329.28 39.51,329.17 40.31,329.06 41.1,328.95 41.89,328.83 42.68,328.71 43.47,328.59 44.26,328.46 45.05,328.31 45.83,328.16 46.62,328 47.4,327.83 48.17,327.65 48.95,327.46 49.72,327.26 50.49,327.05 51.26,326.82 52.02,326.59 52.78,326.34 53.54,326.09 54.3,325.83 55.06,325.57 55.81,325.3 56.56,325.03 57.31,324.75 58.06,324.47 58.81,324.19 59.56,323.91 60.32,323.63 61.07,323.36 61.82,323.08 62.57,322.82 63.33,322.55 64.09,322.29 64.85,322.04 65.61,321.79 66.37,321.55 67.14,321.32 67.9,321.09 68.67,320.87 69.44,320.66 70.22,320.45 70.99,320.25 71.77,320.05 72.54,319.86 73.32,319.68 74.1,319.49 74.88,319.31 75.66,319.13 76.44,318.95 77.23,318.78 78.01,318.6 78.79,318.43 79.57,318.26 80.35,318.08 81.14,317.91 81.92,317.73 82.7,317.56 83.48,317.38 84.26,317.2 85.04,317.01 85.82,316.82 86.59,316.63 87.37,316.44 88.15,316.24 88.92,316.04 89.69,315.83 90.47,315.62 91.24,315.4 92.01,315.18 92.77,314.95 93.54,314.72 94.31,314.49 95.07,314.25 95.83,314 96.6,313.76 97.36,313.51 98.12,313.25 98.88,313 99.63,312.74 100.39,312.48 101.15,312.22 101.91,311.96 102.66,311.69 103.42,311.43 104.17,311.16 104.93,310.9 105.68,310.63 106.44,310.36 107.2,310.1 107.95,309.83 108.71,309.57 109.46,309.3 110.22,309.03 110.97,308.77 111.73,308.5 112.48,308.23 113.24,307.97 113.99,307.7 114.75,307.43 115.5,307.16 116.26,306.89 117.01,306.62 117.76,306.35 118.52,306.07 119.27,305.8 120.02,305.53 120.77,305.25 121.53,304.97 122.28,304.7 123.03,304.42 123.78,304.14 124.53,303.86 125.28,303.57 126.03,303.29 126.78,303.01 127.53,302.72 128.28,302.44 129.02,302.15 129.77,301.87 130.52,301.59 131.27,301.31 132.02,301.03 132.77,300.75 133.53,300.47 134.28,300.2 135.03,299.93 135.79,299.66 136.54,299.39 137.3,299.13 138.05,298.86 138.8,298.6 139.55,298.33 140.28,298.05 141.01,297.76 141.73,297.47 142.42,297.15 143.09,296.82 143.73,296.46 144.34,296.07 144.9,295.64 145.42,295.18 145.88,294.68 146.3,294.14 146.66,293.55 146.97,292.93 147.23,292.28 147.46,291.59 147.64,290.88 147.8,290.14 147.93,289.39 148.04,288.62 148.14,287.84 148.22,287.06 148.3,286.27 148.38,285.47 148.45,284.68 148.52,283.88 148.59,283.09 148.66,282.29 148.74,281.51 148.83,280.72 148.93,279.94 149.04,279.18 149.18,278.42 149.34,277.69 149.53,276.97 149.76,276.28 150.03,275.62 150.34,274.99 150.71,274.39 151.12,273.83 151.58,273.29 152.09,272.8 152.64,272.33 153.23,271.89 153.85,271.47 154.5,271.07 155.17,270.69 155.86,270.32 156.56,269.96 157.27,269.6 157.99,269.26 158.71,268.92 159.44,268.58 160.16,268.25 160.89,267.92 161.63,267.59 162.36,267.27 163.09,266.95 163.83,266.63 164.56,266.31 165.3,266 166.04,265.68 166.77,265.38 167.51,265.07 168.26,264.77 169,264.46 169.74,264.16 170.48,263.86 171.23,263.57 171.97,263.27 172.71,262.97 173.45,262.67 174.2,262.36 174.94,262.06 175.67,261.75 176.41,261.44 177.15,261.12 177.88,260.79 178.61,260.47 179.33,260.13 180.06,259.79 180.78,259.45 181.5,259.1 182.22,258.74 182.93,258.38 183.64,258.01 184.35,257.64 185.06,257.26 185.76,256.87 186.46,256.49 187.15,256.09 187.85,255.69 188.54,255.29 189.23,254.88 189.91,254.46 190.59,254.04 191.27,253.62 191.94,253.19 192.61,252.75 193.28,252.3 193.94,251.85 194.59,251.4 195.25,250.93 195.89,250.46 196.53,249.98 197.16,249.49 197.79,248.99 198.41,248.49 199.02,247.98 199.63,247.46 200.24,246.94 200.83,246.4 201.43,245.87 202.02,245.33 202.6,244.78 203.19,244.24 203.78,243.69 204.36,243.14 204.94,242.6 205.53,242.05 206.12,241.51 206.71,240.97 207.3,240.43 207.9,239.9 208.5,239.37 209.11,238.85 209.72,238.33 210.33,237.82 210.95,237.3 211.57,236.8 212.19,236.3 212.82,235.8 213.45,235.3 214.08,234.81 214.71,234.32 215.35,233.83 215.98,233.34 216.62,232.86 217.26,232.38 217.9,231.9 218.54,231.42 219.18,230.94 219.83,230.46 220.47,229.98 221.11,229.51 221.76,229.03 222.4,228.55 223.05,228.08 223.69,227.6 224.33,227.12 224.98,226.64 225.62,226.16 226.26,225.68 226.9,225.2 227.54,224.72 228.18,224.24 228.82,223.75 229.45,223.27 230.09,222.79 230.73,222.3 231.37,221.82 232.01,221.34 232.65,220.86 233.3,220.38 233.94,219.91 234.59,219.44 235.24,218.97 235.89,218.51 236.55,218.06 237.21,217.61 237.88,217.16 238.55,216.73 239.22,216.3 239.9,215.87 240.59,215.46 241.28,215.05 241.97,214.65 242.67,214.26 243.37,213.88 244.08,213.51 244.79,213.14 245.5,212.79 246.22,212.44 246.95,212.1 247.67,211.77 248.4,211.45 249.14,211.13 249.88,210.82 250.62,210.52 251.36,210.22 252.11,209.94 252.86,209.65 253.61,209.37 254.36,209.1 255.11,208.82 255.87,208.55 256.62,208.28 257.38,208.02"/>
</g>
<rect x="45" y="194" width="204.8" height="148" fill="none" stroke="#848a8a" stroke-width="1.5"/>
<rect x="186" y="271.6" width="57.6" height="62.6" fill="#fff" stroke="#aab0d4" stroke-width="1"/>
<line x1="190" y1="278.3" x2="213.8" y2="278.3" stroke="#e040c8" stroke-width="1"/>
<text x="216.6" y="281.3" font-size="8.4" font-weight="bold" fill="#ee1c5a" transform="translate(216.6,0) scale(0.93,1) translate(-216.6,0)">0.03 K</text>
<line x1="190" y1="286.6" x2="213.8" y2="286.6" stroke="#f4a070" stroke-width="1"/>
<text x="216.6" y="289.6" font-size="8.4" font-weight="bold" fill="#f4924a" transform="translate(216.6,0) scale(0.93,1) translate(-216.6,0)">0.5 K</text>
<line x1="190" y1="294.9" x2="213.8" y2="294.9" stroke="#90ee50" stroke-width="1"/>
<text x="216.6" y="297.9" font-size="8.4" font-weight="bold" fill="#55dd00" transform="translate(216.6,0) scale(0.93,1) translate(-216.6,0)">1 K</text>
<line x1="190" y1="303.2" x2="213.8" y2="303.2" stroke="#30d060" stroke-width="1"/>
<text x="216.6" y="306.2" font-size="8.4" font-weight="bold" fill="#18b818" transform="translate(216.6,0) scale(0.93,1) translate(-216.6,0)">2 K</text>
<line x1="190" y1="311.5" x2="213.8" y2="311.5" stroke="#50eeee" stroke-width="1"/>
<text x="216.6" y="314.5" font-size="8.4" font-weight="bold" fill="#30e0e0" transform="translate(216.6,0) scale(0.93,1) translate(-216.6,0)">3 K</text>
<line x1="190" y1="319.8" x2="213.8" y2="319.8" stroke="#4a64b0" stroke-width="1"/>
<text x="216.6" y="322.8" font-size="8.4" font-weight="bold" fill="#2a3fa0" transform="translate(216.6,0) scale(0.93,1) translate(-216.6,0)">4 K</text>
<line x1="190" y1="328.1" x2="213.8" y2="328.1" stroke="#f0a0f0" stroke-width="1"/>
<text x="216.6" y="331.1" font-size="8.4" font-weight="bold" fill="#e070e0" transform="translate(216.6,0) scale(0.93,1) translate(-216.6,0)">5 K</text>
<text transform="translate(276.6,199.1) scale(0.8,1)" font-size="14.4" font-weight="bold" fill="#000">d</text>
<line x1="321.25" y1="344" x2="321.25" y2="347" stroke="#333" stroke-width="1"/>
<line x1="366.04" y1="344" x2="366.04" y2="347" stroke="#333" stroke-width="1"/>
<line x1="410.82" y1="344" x2="410.82" y2="347" stroke="#333" stroke-width="1"/>
<line x1="455.61" y1="344" x2="455.61" y2="347" stroke="#333" stroke-width="1"/>
<line x1="500.4" y1="344" x2="500.4" y2="347" stroke="#333" stroke-width="1"/>
<line x1="310.05" y1="344" x2="310.05" y2="346" stroke="#333" stroke-width="1"/>
<line x1="332.45" y1="344" x2="332.45" y2="346" stroke="#333" stroke-width="1"/>
<line x1="343.64" y1="344" x2="343.64" y2="346" stroke="#333" stroke-width="1"/>
<line x1="354.84" y1="344" x2="354.84" y2="346" stroke="#333" stroke-width="1"/>
<line x1="377.23" y1="344" x2="377.23" y2="346" stroke="#333" stroke-width="1"/>
<line x1="388.43" y1="344" x2="388.43" y2="346" stroke="#333" stroke-width="1"/>
<line x1="399.63" y1="344" x2="399.63" y2="346" stroke="#333" stroke-width="1"/>
<line x1="422.02" y1="344" x2="422.02" y2="346" stroke="#333" stroke-width="1"/>
<line x1="433.22" y1="344" x2="433.22" y2="346" stroke="#333" stroke-width="1"/>
<line x1="444.42" y1="344" x2="444.42" y2="346" stroke="#333" stroke-width="1"/>
<line x1="466.81" y1="344" x2="466.81" y2="346" stroke="#333" stroke-width="1"/>
<line x1="478.01" y1="344" x2="478.01" y2="346" stroke="#333" stroke-width="1"/>
<line x1="489.2" y1="344" x2="489.2" y2="346" stroke="#333" stroke-width="1"/>
<line x1="511.6" y1="344" x2="511.6" y2="346" stroke="#333" stroke-width="1"/>
<line x1="307.5" y1="336.5" x2="310.5" y2="336.5" stroke="#333" stroke-width="1"/>
<line x1="307.5" y1="302.1" x2="310.5" y2="302.1" stroke="#333" stroke-width="1"/>
<line x1="307.5" y1="267.7" x2="310.5" y2="267.7" stroke="#333" stroke-width="1"/>
<line x1="307.5" y1="233.3" x2="310.5" y2="233.3" stroke="#333" stroke-width="1"/>
<line x1="307.5" y1="198.9" x2="310.5" y2="198.9" stroke="#333" stroke-width="1"/>
<line x1="308.5" y1="343.38" x2="310.5" y2="343.38" stroke="#333" stroke-width="1"/>
<line x1="308.5" y1="329.62" x2="310.5" y2="329.62" stroke="#333" stroke-width="1"/>
<line x1="308.5" y1="322.74" x2="310.5" y2="322.74" stroke="#333" stroke-width="1"/>
<line x1="308.5" y1="315.86" x2="310.5" y2="315.86" stroke="#333" stroke-width="1"/>
<line x1="308.5" y1="308.98" x2="310.5" y2="308.98" stroke="#333" stroke-width="1"/>
<line x1="308.5" y1="295.22" x2="310.5" y2="295.22" stroke="#333" stroke-width="1"/>
<line x1="308.5" y1="288.34" x2="310.5" y2="288.34" stroke="#333" stroke-width="1"/>
<line x1="308.5" y1="281.46" x2="310.5" y2="281.46" stroke="#333" stroke-width="1"/>
<line x1="308.5" y1="274.58" x2="310.5" y2="274.58" stroke="#333" stroke-width="1"/>
<line x1="308.5" y1="260.82" x2="310.5" y2="260.82" stroke="#333" stroke-width="1"/>
<line x1="308.5" y1="253.94" x2="310.5" y2="253.94" stroke="#333" stroke-width="1"/>
<line x1="308.5" y1="247.06" x2="310.5" y2="247.06" stroke="#333" stroke-width="1"/>
<line x1="308.5" y1="240.18" x2="310.5" y2="240.18" stroke="#333" stroke-width="1"/>
<line x1="308.5" y1="226.42" x2="310.5" y2="226.42" stroke="#333" stroke-width="1"/>
<line x1="308.5" y1="219.54" x2="310.5" y2="219.54" stroke="#333" stroke-width="1"/>
<line x1="308.5" y1="212.66" x2="310.5" y2="212.66" stroke="#333" stroke-width="1"/>
<line x1="308.5" y1="205.78" x2="310.5" y2="205.78" stroke="#333" stroke-width="1"/>
<line x1="308.5" y1="192.02" x2="310.5" y2="192.02" stroke="#333" stroke-width="1"/>
<text x="321.25" y="357.4" font-size="10.6" text-anchor="middle" font-weight="normal" font-style="normal" fill="#222" stroke="#222" stroke-width="0.3" >-4</text>
<text x="366.04" y="357.4" font-size="10.6" text-anchor="middle" font-weight="normal" font-style="normal" fill="#222" stroke="#222" stroke-width="0.3" >-2</text>
<text x="410.82" y="357.4" font-size="10.6" text-anchor="middle" font-weight="normal" font-style="normal" fill="#222" stroke="#222" stroke-width="0.3" >0</text>
<text x="455.61" y="357.4" font-size="10.6" text-anchor="middle" font-weight="normal" font-style="normal" fill="#222" stroke="#222" stroke-width="0.3" >2</text>
<text x="500.4" y="357.4" font-size="10.6" text-anchor="middle" font-weight="normal" font-style="normal" fill="#222" stroke="#222" stroke-width="0.3" >4</text>
<text x="305" y="202" font-size="10.6" text-anchor="end" font-weight="normal" font-style="normal" fill="#222" stroke="#222" stroke-width="0.3" >10</text>
<text x="305" y="236.4" font-size="10.6" text-anchor="end" font-weight="normal" font-style="normal" fill="#222" stroke="#222" stroke-width="0.3" >5</text>
<text x="305" y="270.8" font-size="10.6" text-anchor="end" font-weight="normal" font-style="normal" fill="#222" stroke="#222" stroke-width="0.3" >0</text>
<text x="305" y="305.2" font-size="10.6" text-anchor="end" font-weight="normal" font-style="normal" fill="#222" stroke="#222" stroke-width="0.3" >-5</text>
<text x="305" y="339.6" font-size="10.6" text-anchor="end" font-weight="normal" font-style="normal" fill="#222" stroke="#222" stroke-width="0.3" >-10</text>
<text x="417.2" y="373.8" font-size="10.5" text-anchor="middle" font-weight="normal" font-style="normal" fill="#222" stroke="#222" stroke-width="0.3" ><tspan font-style="italic">&#956;</tspan><tspan dy="3.4" font-size="6.6">0</tspan><tspan dy="-3.4" font-style="italic">H</tspan> / T</text>
<g transform="translate(283,265) rotate(-90)"><text x="0" y="0" font-size="10.5" text-anchor="middle" fill="#222" stroke="#222" stroke-width="0.3"><tspan font-style="italic">M</tspan> / <tspan font-style="italic">&#956;</tspan><tspan dy="3" font-size="7">B</tspan></text></g>
<clipPath id="cd"><rect x="310.5" y="192" width="201" height="152"/></clipPath>
<g clip-path="url(#cd)">
<polyline fill="none" stroke="#8c8cd8" stroke-width="0.8" points="500.4,203.72 484.72,203.72 471.29,204.06 457.85,204.06 444.42,204.4 430.98,205.09 417.54,206.81 404.11,214.04 390.67,220.57 377.23,278.02 363.8,311.04 350.36,322.4 336.93,328.24 321.25,330.65 321.25,331.68 336.93,331.68 350.36,331.34 363.8,331.34 377.23,331 390.67,330.31 404.11,328.59 417.54,321.36 430.98,314.83 444.42,257.38 457.85,224.36 471.29,213 484.72,207.16 500.4,204.75 500.4,203.72"/>
<polyline fill="none" stroke="#98a8f0" stroke-width="0.8" points="500.4,204.06 484.72,204.06 471.29,204.4 457.85,204.4 444.42,204.75 430.98,205.44 417.54,207.16 404.11,214.72 390.67,221.6 377.23,278.71 363.8,311.04 350.36,322.4 336.93,328.24 321.25,330.65 321.25,331.34 336.93,331.34 350.36,331 363.8,331 377.23,330.65 390.67,329.96 404.11,328.24 417.54,320.68 430.98,313.8 444.42,256.69 457.85,224.36 471.29,213 484.72,207.16 500.4,204.75 500.4,204.06"/>
<polyline fill="none" stroke="#90ec90" stroke-width="0.8" points="500.4,204.4 484.72,204.4 471.29,204.75 457.85,204.75 444.42,205.09 430.98,205.78 417.54,207.5 404.11,215.41 390.67,222.29 377.23,279.74 363.8,311.04 350.36,322.74 336.93,328.59 321.25,330.65 321.25,331 336.93,331 350.36,330.65 363.8,330.65 377.23,330.31 390.67,329.62 404.11,327.9 417.54,319.99 430.98,313.11 444.42,255.66 457.85,224.36 471.29,212.66 484.72,206.81 500.4,204.75 500.4,204.4"/>
<polyline fill="none" stroke="#e4ec80" stroke-width="0.8" points="500.4,204.4 484.72,204.4 471.29,204.75 457.85,205.09 444.42,205.44 430.98,206.12 417.54,208.19 404.11,216.44 390.67,224.36 377.23,276.64 363.8,311.04 350.36,323.08 336.93,328.59 321.25,330.65 321.25,331 336.93,331 350.36,330.65 363.8,330.31 377.23,329.96 390.67,329.28 404.11,327.21 417.54,318.96 430.98,311.04 444.42,258.76 457.85,224.36 471.29,212.32 484.72,206.81 500.4,204.75 500.4,204.4"/>
<polyline fill="none" stroke="#f4d488" stroke-width="0.8" points="500.4,204.75 484.72,204.75 471.29,205.09 457.85,205.44 444.42,205.78 430.98,206.47 417.54,208.88 404.11,218.16 390.67,226.42 377.23,274.92 363.8,311.39 350.36,323.43 336.93,328.93 321.25,330.65 321.25,330.65 336.93,330.65 350.36,330.31 363.8,329.96 377.23,329.62 390.67,328.93 404.11,326.52 417.54,317.24 430.98,308.98 444.42,260.48 457.85,224.01 471.29,211.97 484.72,206.47 500.4,204.75 500.4,204.75"/>
<polyline fill="none" stroke="#f2a0d0" stroke-width="0.8" points="500.4,204.75 489.2,205.09 478.01,205.44 466.81,205.78 455.61,206.12 444.42,206.47 433.22,208.19 422.02,210.6 410.82,219.33 399.63,226.42 388.43,240.39 377.23,291.09 366.04,312.08 354.84,322.74 343.64,326.87 332.45,329.62 321.25,330.65 321.25,330.65 332.45,330.31 343.64,329.96 354.84,329.62 366.04,329.28 377.23,328.93 388.43,327.21 399.63,324.8 410.82,316.07 422.02,308.98 433.22,295.01 444.42,244.31 455.61,223.32 466.81,212.66 478.01,208.53 489.2,205.78 500.4,204.75 500.4,204.75"/>
<polyline fill="none" stroke="#d0a8e8" stroke-width="0.8" points="500.4,204.75 489.2,205.09 478.01,205.44 466.81,205.78 455.61,206.47 444.42,207.84 433.22,209.91 422.02,215.41 410.82,226.42 399.63,238.8 388.43,275.96 377.23,295.22 366.04,318.96 354.84,326.18 343.64,328.93 332.45,330.31 321.25,330.65 321.25,330.65 332.45,330.31 343.64,329.96 354.84,329.62 366.04,328.93 377.23,327.56 388.43,325.49 399.63,319.99 410.82,308.98 422.02,296.6 433.22,259.44 444.42,240.18 455.61,216.44 466.81,209.22 478.01,206.47 489.2,205.09 500.4,204.75 500.4,204.75"/>
<polyline fill="none" stroke="#98f0c8" stroke-width="0.8" points="500.4,204.75 489.2,205.09 478.01,205.44 466.81,206.47 455.61,207.84 444.42,209.22 433.22,214.59 422.02,226.08 410.82,241.21 399.63,271.14 388.43,304.16 377.23,317.24 366.04,324.12 354.84,327.56 343.64,329.62 332.45,330.31 321.25,330.65 321.25,330.65 332.45,330.31 343.64,329.96 354.84,328.93 366.04,327.56 377.23,326.18 388.43,320.81 399.63,309.32 410.82,294.19 422.02,264.26 433.22,231.24 444.42,218.16 455.61,211.28 466.81,207.84 478.01,205.78 489.2,205.09 500.4,204.75 500.4,204.75"/>
<polyline fill="none" stroke="#a8c0f0" stroke-width="0.8" points="500.4,204.4 489.2,204.75 478.01,205.44 466.81,205.99 455.61,208.53 444.42,212.66 433.22,219.33 422.02,235.23 410.82,264.26 399.63,292.47 388.43,313.11 377.23,322.4 366.04,326.18 354.84,328.93 343.64,329.96 332.45,330.65 321.25,331 321.25,331 332.45,330.65 343.64,329.96 354.84,329.41 366.04,326.87 377.23,322.74 388.43,316.07 399.63,300.17 410.82,271.14 422.02,242.93 433.22,222.29 444.42,213 455.61,209.22 466.81,206.47 478.01,205.44 489.2,204.75 500.4,204.4 500.4,204.4"/>
<circle cx="500.4" cy="203.72" r="2.6" fill="#1a1a9c" stroke="#000020" stroke-width="0.4"/>
<circle cx="484.72" cy="203.72" r="2.6" fill="#1a1a9c" stroke="#000020" stroke-width="0.4"/>
<circle cx="471.29" cy="204.06" r="2.6" fill="#1a1a9c" stroke="#000020" stroke-width="0.4"/>
<circle cx="457.85" cy="204.06" r="2.6" fill="#1a1a9c" stroke="#000020" stroke-width="0.4"/>
<circle cx="444.42" cy="204.4" r="2.6" fill="#1a1a9c" stroke="#000020" stroke-width="0.4"/>
<circle cx="430.98" cy="205.09" r="2.6" fill="#1a1a9c" stroke="#000020" stroke-width="0.4"/>
<circle cx="417.54" cy="206.81" r="2.6" fill="#1a1a9c" stroke="#000020" stroke-width="0.4"/>
<circle cx="404.11" cy="214.04" r="2.6" fill="#1a1a9c" stroke="#000020" stroke-width="0.4"/>
<circle cx="390.67" cy="220.57" r="2.6" fill="#1a1a9c" stroke="#000020" stroke-width="0.4"/>
<circle cx="377.23" cy="278.02" r="2.6" fill="#1a1a9c" stroke="#000020" stroke-width="0.4"/>
<circle cx="363.8" cy="311.04" r="2.6" fill="#1a1a9c" stroke="#000020" stroke-width="0.4"/>
<circle cx="350.36" cy="322.4" r="2.6" fill="#1a1a9c" stroke="#000020" stroke-width="0.4"/>
<circle cx="336.93" cy="328.24" r="2.6" fill="#1a1a9c" stroke="#000020" stroke-width="0.4"/>
<circle cx="321.25" cy="330.65" r="2.6" fill="#1a1a9c" stroke="#000020" stroke-width="0.4"/>
<circle cx="321.25" cy="331.68" r="2.6" fill="#1a1a9c" stroke="#000020" stroke-width="0.4"/>
<circle cx="336.93" cy="331.68" r="2.6" fill="#1a1a9c" stroke="#000020" stroke-width="0.4"/>
<circle cx="350.36" cy="331.34" r="2.6" fill="#1a1a9c" stroke="#000020" stroke-width="0.4"/>
<circle cx="363.8" cy="331.34" r="2.6" fill="#1a1a9c" stroke="#000020" stroke-width="0.4"/>
<circle cx="377.23" cy="331" r="2.6" fill="#1a1a9c" stroke="#000020" stroke-width="0.4"/>
<circle cx="390.67" cy="330.31" r="2.6" fill="#1a1a9c" stroke="#000020" stroke-width="0.4"/>
<circle cx="404.11" cy="328.59" r="2.6" fill="#1a1a9c" stroke="#000020" stroke-width="0.4"/>
<circle cx="417.54" cy="321.36" r="2.6" fill="#1a1a9c" stroke="#000020" stroke-width="0.4"/>
<circle cx="430.98" cy="314.83" r="2.6" fill="#1a1a9c" stroke="#000020" stroke-width="0.4"/>
<circle cx="444.42" cy="257.38" r="2.6" fill="#1a1a9c" stroke="#000020" stroke-width="0.4"/>
<circle cx="457.85" cy="224.36" r="2.6" fill="#1a1a9c" stroke="#000020" stroke-width="0.4"/>
<circle cx="471.29" cy="213" r="2.6" fill="#1a1a9c" stroke="#000020" stroke-width="0.4"/>
<circle cx="484.72" cy="207.16" r="2.6" fill="#1a1a9c" stroke="#000020" stroke-width="0.4"/>
<circle cx="500.4" cy="204.75" r="2.6" fill="#1a1a9c" stroke="#000020" stroke-width="0.4"/>
<path d="M498,202.14 L502.8,202.14 L500.4,206.46 Z" fill="#1838d8" stroke="#000830" stroke-width="0.4"/>
<path d="M482.32,202.14 L487.12,202.14 L484.72,206.46 Z" fill="#1838d8" stroke="#000830" stroke-width="0.4"/>
<path d="M468.89,202.48 L473.69,202.48 L471.29,206.8 Z" fill="#1838d8" stroke="#000830" stroke-width="0.4"/>
<path d="M455.45,202.48 L460.25,202.48 L457.85,206.8 Z" fill="#1838d8" stroke="#000830" stroke-width="0.4"/>
<path d="M442.02,202.83 L446.82,202.83 L444.42,207.15 Z" fill="#1838d8" stroke="#000830" stroke-width="0.4"/>
<path d="M428.58,203.52 L433.38,203.52 L430.98,207.84 Z" fill="#1838d8" stroke="#000830" stroke-width="0.4"/>
<path d="M415.14,205.24 L419.94,205.24 L417.54,209.56 Z" fill="#1838d8" stroke="#000830" stroke-width="0.4"/>
<path d="M401.71,212.8 L406.51,212.8 L404.11,217.12 Z" fill="#1838d8" stroke="#000830" stroke-width="0.4"/>
<path d="M388.27,219.68 L393.07,219.68 L390.67,224 Z" fill="#1838d8" stroke="#000830" stroke-width="0.4"/>
<path d="M374.83,276.79 L379.63,276.79 L377.23,281.11 Z" fill="#1838d8" stroke="#000830" stroke-width="0.4"/>
<path d="M361.4,309.12 L366.2,309.12 L363.8,313.44 Z" fill="#1838d8" stroke="#000830" stroke-width="0.4"/>
<path d="M347.96,320.48 L352.76,320.48 L350.36,324.8 Z" fill="#1838d8" stroke="#000830" stroke-width="0.4"/>
<path d="M334.53,326.32 L339.33,326.32 L336.93,330.64 Z" fill="#1838d8" stroke="#000830" stroke-width="0.4"/>
<path d="M318.85,328.73 L323.65,328.73 L321.25,333.05 Z" fill="#1838d8" stroke="#000830" stroke-width="0.4"/>
<path d="M318.85,329.42 L323.65,329.42 L321.25,333.74 Z" fill="#1838d8" stroke="#000830" stroke-width="0.4"/>
<path d="M334.53,329.42 L339.33,329.42 L336.93,333.74 Z" fill="#1838d8" stroke="#000830" stroke-width="0.4"/>
<path d="M347.96,329.08 L352.76,329.08 L350.36,333.4 Z" fill="#1838d8" stroke="#000830" stroke-width="0.4"/>
<path d="M361.4,329.08 L366.2,329.08 L363.8,333.4 Z" fill="#1838d8" stroke="#000830" stroke-width="0.4"/>
<path d="M374.83,328.73 L379.63,328.73 L377.23,333.05 Z" fill="#1838d8" stroke="#000830" stroke-width="0.4"/>
<path d="M388.27,328.04 L393.07,328.04 L390.67,332.36 Z" fill="#1838d8" stroke="#000830" stroke-width="0.4"/>
<path d="M401.71,326.32 L406.51,326.32 L404.11,330.64 Z" fill="#1838d8" stroke="#000830" stroke-width="0.4"/>
<path d="M415.14,318.76 L419.94,318.76 L417.54,323.08 Z" fill="#1838d8" stroke="#000830" stroke-width="0.4"/>
<path d="M428.58,311.88 L433.38,311.88 L430.98,316.2 Z" fill="#1838d8" stroke="#000830" stroke-width="0.4"/>
<path d="M442.02,254.77 L446.82,254.77 L444.42,259.09 Z" fill="#1838d8" stroke="#000830" stroke-width="0.4"/>
<path d="M455.45,222.44 L460.25,222.44 L457.85,226.76 Z" fill="#1838d8" stroke="#000830" stroke-width="0.4"/>
<path d="M468.89,211.08 L473.69,211.08 L471.29,215.4 Z" fill="#1838d8" stroke="#000830" stroke-width="0.4"/>
<path d="M482.32,205.24 L487.12,205.24 L484.72,209.56 Z" fill="#1838d8" stroke="#000830" stroke-width="0.4"/>
<path d="M498,202.83 L502.8,202.83 L500.4,207.15 Z" fill="#1838d8" stroke="#000830" stroke-width="0.4"/>
<rect x="498.05" y="202.05" width="4.7" height="4.7" fill="#14d414" stroke="#064806" stroke-width="0.4"/>
<rect x="482.37" y="202.05" width="4.7" height="4.7" fill="#14d414" stroke="#064806" stroke-width="0.4"/>
<rect x="468.94" y="202.4" width="4.7" height="4.7" fill="#14d414" stroke="#064806" stroke-width="0.4"/>
<rect x="455.5" y="202.4" width="4.7" height="4.7" fill="#14d414" stroke="#064806" stroke-width="0.4"/>
<rect x="442.07" y="202.74" width="4.7" height="4.7" fill="#14d414" stroke="#064806" stroke-width="0.4"/>
<rect x="428.63" y="203.43" width="4.7" height="4.7" fill="#14d414" stroke="#064806" stroke-width="0.4"/>
<rect x="415.19" y="205.15" width="4.7" height="4.7" fill="#14d414" stroke="#064806" stroke-width="0.4"/>
<rect x="401.76" y="213.06" width="4.7" height="4.7" fill="#14d414" stroke="#064806" stroke-width="0.4"/>
<rect x="388.32" y="219.94" width="4.7" height="4.7" fill="#14d414" stroke="#064806" stroke-width="0.4"/>
<rect x="374.88" y="277.39" width="4.7" height="4.7" fill="#14d414" stroke="#064806" stroke-width="0.4"/>
<rect x="361.45" y="308.69" width="4.7" height="4.7" fill="#14d414" stroke="#064806" stroke-width="0.4"/>
<rect x="348.01" y="320.39" width="4.7" height="4.7" fill="#14d414" stroke="#064806" stroke-width="0.4"/>
<rect x="334.58" y="326.24" width="4.7" height="4.7" fill="#14d414" stroke="#064806" stroke-width="0.4"/>
<rect x="318.9" y="328.3" width="4.7" height="4.7" fill="#14d414" stroke="#064806" stroke-width="0.4"/>
<rect x="318.9" y="328.65" width="4.7" height="4.7" fill="#14d414" stroke="#064806" stroke-width="0.4"/>
<rect x="334.58" y="328.65" width="4.7" height="4.7" fill="#14d414" stroke="#064806" stroke-width="0.4"/>
<rect x="348.01" y="328.3" width="4.7" height="4.7" fill="#14d414" stroke="#064806" stroke-width="0.4"/>
<rect x="361.45" y="328.3" width="4.7" height="4.7" fill="#14d414" stroke="#064806" stroke-width="0.4"/>
<rect x="374.88" y="327.96" width="4.7" height="4.7" fill="#14d414" stroke="#064806" stroke-width="0.4"/>
<rect x="388.32" y="327.27" width="4.7" height="4.7" fill="#14d414" stroke="#064806" stroke-width="0.4"/>
<rect x="401.76" y="325.55" width="4.7" height="4.7" fill="#14d414" stroke="#064806" stroke-width="0.4"/>
<rect x="415.19" y="317.64" width="4.7" height="4.7" fill="#14d414" stroke="#064806" stroke-width="0.4"/>
<rect x="428.63" y="310.76" width="4.7" height="4.7" fill="#14d414" stroke="#064806" stroke-width="0.4"/>
<rect x="442.07" y="253.31" width="4.7" height="4.7" fill="#14d414" stroke="#064806" stroke-width="0.4"/>
<rect x="455.5" y="222.01" width="4.7" height="4.7" fill="#14d414" stroke="#064806" stroke-width="0.4"/>
<rect x="468.94" y="210.31" width="4.7" height="4.7" fill="#14d414" stroke="#064806" stroke-width="0.4"/>
<rect x="482.37" y="204.46" width="4.7" height="4.7" fill="#14d414" stroke="#064806" stroke-width="0.4"/>
<rect x="498.05" y="202.4" width="4.7" height="4.7" fill="#14d414" stroke="#064806" stroke-width="0.4"/>
<path d="M500.4,201.3 L503.5,204.4 L500.4,207.5 L497.3,204.4 Z" fill="#f2f29c" stroke="#6a6a20" stroke-width="0.5"/>
<path d="M484.72,201.3 L487.82,204.4 L484.72,207.5 L481.62,204.4 Z" fill="#f2f29c" stroke="#6a6a20" stroke-width="0.5"/>
<path d="M471.29,201.65 L474.39,204.75 L471.29,207.85 L468.19,204.75 Z" fill="#f2f29c" stroke="#6a6a20" stroke-width="0.5"/>
<path d="M457.85,201.99 L460.95,205.09 L457.85,208.19 L454.75,205.09 Z" fill="#f2f29c" stroke="#6a6a20" stroke-width="0.5"/>
<path d="M444.42,202.34 L447.52,205.44 L444.42,208.54 L441.32,205.44 Z" fill="#f2f29c" stroke="#6a6a20" stroke-width="0.5"/>
<path d="M430.98,203.02 L434.08,206.12 L430.98,209.22 L427.88,206.12 Z" fill="#f2f29c" stroke="#6a6a20" stroke-width="0.5"/>
<path d="M417.54,205.09 L420.64,208.19 L417.54,211.29 L414.44,208.19 Z" fill="#f2f29c" stroke="#6a6a20" stroke-width="0.5"/>
<path d="M404.11,213.34 L407.21,216.44 L404.11,219.54 L401.01,216.44 Z" fill="#f2f29c" stroke="#6a6a20" stroke-width="0.5"/>
<path d="M390.67,221.26 L393.77,224.36 L390.67,227.46 L387.57,224.36 Z" fill="#f2f29c" stroke="#6a6a20" stroke-width="0.5"/>
<path d="M377.23,273.54 L380.33,276.64 L377.23,279.74 L374.13,276.64 Z" fill="#f2f29c" stroke="#6a6a20" stroke-width="0.5"/>
<path d="M363.8,307.94 L366.9,311.04 L363.8,314.14 L360.7,311.04 Z" fill="#f2f29c" stroke="#6a6a20" stroke-width="0.5"/>
<path d="M350.36,319.98 L353.46,323.08 L350.36,326.18 L347.26,323.08 Z" fill="#f2f29c" stroke="#6a6a20" stroke-width="0.5"/>
<path d="M336.93,325.49 L340.03,328.59 L336.93,331.69 L333.83,328.59 Z" fill="#f2f29c" stroke="#6a6a20" stroke-width="0.5"/>
<path d="M321.25,327.55 L324.35,330.65 L321.25,333.75 L318.15,330.65 Z" fill="#f2f29c" stroke="#6a6a20" stroke-width="0.5"/>
<path d="M321.25,327.9 L324.35,331 L321.25,334.1 L318.15,331 Z" fill="#f2f29c" stroke="#6a6a20" stroke-width="0.5"/>
<path d="M336.93,327.9 L340.03,331 L336.93,334.1 L333.83,331 Z" fill="#f2f29c" stroke="#6a6a20" stroke-width="0.5"/>
<path d="M350.36,327.55 L353.46,330.65 L350.36,333.75 L347.26,330.65 Z" fill="#f2f29c" stroke="#6a6a20" stroke-width="0.5"/>
<path d="M363.8,327.21 L366.9,330.31 L363.8,333.41 L360.7,330.31 Z" fill="#f2f29c" stroke="#6a6a20" stroke-width="0.5"/>
<path d="M377.23,326.86 L380.33,329.96 L377.23,333.06 L374.13,329.96 Z" fill="#f2f29c" stroke="#6a6a20" stroke-width="0.5"/>
<path d="M390.67,326.18 L393.77,329.28 L390.67,332.38 L387.57,329.28 Z" fill="#f2f29c" stroke="#6a6a20" stroke-width="0.5"/>
<path d="M404.11,324.11 L407.21,327.21 L404.11,330.31 L401.01,327.21 Z" fill="#f2f29c" stroke="#6a6a20" stroke-width="0.5"/>
<path d="M417.54,315.86 L420.64,318.96 L417.54,322.06 L414.44,318.96 Z" fill="#f2f29c" stroke="#6a6a20" stroke-width="0.5"/>
<path d="M430.98,307.94 L434.08,311.04 L430.98,314.14 L427.88,311.04 Z" fill="#f2f29c" stroke="#6a6a20" stroke-width="0.5"/>
<path d="M444.42,255.66 L447.52,258.76 L444.42,261.86 L441.32,258.76 Z" fill="#f2f29c" stroke="#6a6a20" stroke-width="0.5"/>
<path d="M457.85,221.26 L460.95,224.36 L457.85,227.46 L454.75,224.36 Z" fill="#f2f29c" stroke="#6a6a20" stroke-width="0.5"/>
<path d="M471.29,209.22 L474.39,212.32 L471.29,215.42 L468.19,212.32 Z" fill="#f2f29c" stroke="#6a6a20" stroke-width="0.5"/>
<path d="M484.72,203.71 L487.82,206.81 L484.72,209.91 L481.62,206.81 Z" fill="#f2f29c" stroke="#6a6a20" stroke-width="0.5"/>
<path d="M500.4,201.65 L503.5,204.75 L500.4,207.85 L497.3,204.75 Z" fill="#f2f29c" stroke="#6a6a20" stroke-width="0.5"/>
<path d="M498,206.67 L502.8,206.67 L500.4,202.35 Z" fill="#f26a28" stroke="#603010" stroke-width="0.4"/>
<path d="M482.32,206.67 L487.12,206.67 L484.72,202.35 Z" fill="#f26a28" stroke="#603010" stroke-width="0.4"/>
<path d="M468.89,207.01 L473.69,207.01 L471.29,202.69 Z" fill="#f26a28" stroke="#603010" stroke-width="0.4"/>
<path d="M455.45,207.36 L460.25,207.36 L457.85,203.04 Z" fill="#f26a28" stroke="#603010" stroke-width="0.4"/>
<path d="M442.02,207.7 L446.82,207.7 L444.42,203.38 Z" fill="#f26a28" stroke="#603010" stroke-width="0.4"/>
<path d="M428.58,208.39 L433.38,208.39 L430.98,204.07 Z" fill="#f26a28" stroke="#603010" stroke-width="0.4"/>
<path d="M415.14,210.8 L419.94,210.8 L417.54,206.48 Z" fill="#f26a28" stroke="#603010" stroke-width="0.4"/>
<path d="M401.71,220.08 L406.51,220.08 L404.11,215.76 Z" fill="#f26a28" stroke="#603010" stroke-width="0.4"/>
<path d="M388.27,228.34 L393.07,228.34 L390.67,224.02 Z" fill="#f26a28" stroke="#603010" stroke-width="0.4"/>
<path d="M374.83,276.84 L379.63,276.84 L377.23,272.52 Z" fill="#f26a28" stroke="#603010" stroke-width="0.4"/>
<path d="M361.4,313.31 L366.2,313.31 L363.8,308.99 Z" fill="#f26a28" stroke="#603010" stroke-width="0.4"/>
<path d="M347.96,325.35 L352.76,325.35 L350.36,321.03 Z" fill="#f26a28" stroke="#603010" stroke-width="0.4"/>
<path d="M334.53,330.85 L339.33,330.85 L336.93,326.53 Z" fill="#f26a28" stroke="#603010" stroke-width="0.4"/>
<path d="M318.85,332.57 L323.65,332.57 L321.25,328.25 Z" fill="#f26a28" stroke="#603010" stroke-width="0.4"/>
<path d="M318.85,332.57 L323.65,332.57 L321.25,328.25 Z" fill="#f26a28" stroke="#603010" stroke-width="0.4"/>
<path d="M334.53,332.57 L339.33,332.57 L336.93,328.25 Z" fill="#f26a28" stroke="#603010" stroke-width="0.4"/>
<path d="M347.96,332.23 L352.76,332.23 L350.36,327.91 Z" fill="#f26a28" stroke="#603010" stroke-width="0.4"/>
<path d="M361.4,331.88 L366.2,331.88 L363.8,327.56 Z" fill="#f26a28" stroke="#603010" stroke-width="0.4"/>
<path d="M374.83,331.54 L379.63,331.54 L377.23,327.22 Z" fill="#f26a28" stroke="#603010" stroke-width="0.4"/>
<path d="M388.27,330.85 L393.07,330.85 L390.67,326.53 Z" fill="#f26a28" stroke="#603010" stroke-width="0.4"/>
<path d="M401.71,328.44 L406.51,328.44 L404.11,324.12 Z" fill="#f26a28" stroke="#603010" stroke-width="0.4"/>
<path d="M415.14,319.16 L419.94,319.16 L417.54,314.84 Z" fill="#f26a28" stroke="#603010" stroke-width="0.4"/>
<path d="M428.58,310.9 L433.38,310.9 L430.98,306.58 Z" fill="#f26a28" stroke="#603010" stroke-width="0.4"/>
<path d="M442.02,262.4 L446.82,262.4 L444.42,258.08 Z" fill="#f26a28" stroke="#603010" stroke-width="0.4"/>
<path d="M455.45,225.93 L460.25,225.93 L457.85,221.61 Z" fill="#f26a28" stroke="#603010" stroke-width="0.4"/>
<path d="M468.89,213.89 L473.69,213.89 L471.29,209.57 Z" fill="#f26a28" stroke="#603010" stroke-width="0.4"/>
<path d="M482.32,208.39 L487.12,208.39 L484.72,204.07 Z" fill="#f26a28" stroke="#603010" stroke-width="0.4"/>
<path d="M498,206.67 L502.8,206.67 L500.4,202.35 Z" fill="#f26a28" stroke="#603010" stroke-width="0.4"/>
<circle cx="500.4" cy="204.75" r="2.6" fill="#ee1414" stroke="#900808" stroke-width="0.4"/>
<circle cx="489.2" cy="205.09" r="2.6" fill="#ee1414" stroke="#900808" stroke-width="0.4"/>
<circle cx="478.01" cy="205.44" r="2.6" fill="#ee1414" stroke="#900808" stroke-width="0.4"/>
<circle cx="466.81" cy="205.78" r="2.6" fill="#ee1414" stroke="#900808" stroke-width="0.4"/>
<circle cx="455.61" cy="206.12" r="2.6" fill="#ee1414" stroke="#900808" stroke-width="0.4"/>
<circle cx="444.42" cy="206.47" r="2.6" fill="#ee1414" stroke="#900808" stroke-width="0.4"/>
<circle cx="433.22" cy="208.19" r="2.6" fill="#ee1414" stroke="#900808" stroke-width="0.4"/>
<circle cx="422.02" cy="210.6" r="2.6" fill="#ee1414" stroke="#900808" stroke-width="0.4"/>
<circle cx="410.82" cy="219.33" r="2.6" fill="#ee1414" stroke="#900808" stroke-width="0.4"/>
<circle cx="399.63" cy="226.42" r="2.6" fill="#ee1414" stroke="#900808" stroke-width="0.4"/>
<circle cx="388.43" cy="240.39" r="2.6" fill="#ee1414" stroke="#900808" stroke-width="0.4"/>
<circle cx="377.23" cy="291.09" r="2.6" fill="#ee1414" stroke="#900808" stroke-width="0.4"/>
<circle cx="366.04" cy="312.08" r="2.6" fill="#ee1414" stroke="#900808" stroke-width="0.4"/>
<circle cx="354.84" cy="322.74" r="2.6" fill="#ee1414" stroke="#900808" stroke-width="0.4"/>
<circle cx="343.64" cy="326.87" r="2.6" fill="#ee1414" stroke="#900808" stroke-width="0.4"/>
<circle cx="332.45" cy="329.62" r="2.6" fill="#ee1414" stroke="#900808" stroke-width="0.4"/>
<circle cx="321.25" cy="330.65" r="2.6" fill="#ee1414" stroke="#900808" stroke-width="0.4"/>
<circle cx="321.25" cy="330.65" r="2.6" fill="#ee1414" stroke="#900808" stroke-width="0.4"/>
<circle cx="332.45" cy="330.31" r="2.6" fill="#ee1414" stroke="#900808" stroke-width="0.4"/>
<circle cx="343.64" cy="329.96" r="2.6" fill="#ee1414" stroke="#900808" stroke-width="0.4"/>
<circle cx="354.84" cy="329.62" r="2.6" fill="#ee1414" stroke="#900808" stroke-width="0.4"/>
<circle cx="366.04" cy="329.28" r="2.6" fill="#ee1414" stroke="#900808" stroke-width="0.4"/>
<circle cx="377.23" cy="328.93" r="2.6" fill="#ee1414" stroke="#900808" stroke-width="0.4"/>
<circle cx="388.43" cy="327.21" r="2.6" fill="#ee1414" stroke="#900808" stroke-width="0.4"/>
<circle cx="399.63" cy="324.8" r="2.6" fill="#ee1414" stroke="#900808" stroke-width="0.4"/>
<circle cx="410.82" cy="316.07" r="2.6" fill="#ee1414" stroke="#900808" stroke-width="0.4"/>
<circle cx="422.02" cy="308.98" r="2.6" fill="#ee1414" stroke="#900808" stroke-width="0.4"/>
<circle cx="433.22" cy="295.01" r="2.6" fill="#ee1414" stroke="#900808" stroke-width="0.4"/>
<circle cx="444.42" cy="244.31" r="2.6" fill="#ee1414" stroke="#900808" stroke-width="0.4"/>
<circle cx="455.61" cy="223.32" r="2.6" fill="#ee1414" stroke="#900808" stroke-width="0.4"/>
<circle cx="466.81" cy="212.66" r="2.6" fill="#ee1414" stroke="#900808" stroke-width="0.4"/>
<circle cx="478.01" cy="208.53" r="2.6" fill="#ee1414" stroke="#900808" stroke-width="0.4"/>
<circle cx="489.2" cy="205.78" r="2.6" fill="#ee1414" stroke="#900808" stroke-width="0.4"/>
<circle cx="500.4" cy="204.75" r="2.6" fill="#ee1414" stroke="#900808" stroke-width="0.4"/>
<path d="M498,202.83 L502.8,202.83 L500.4,207.15 Z" fill="#5c2c92" stroke="#200838" stroke-width="0.4"/>
<path d="M486.8,203.17 L491.6,203.17 L489.2,207.49 Z" fill="#5c2c92" stroke="#200838" stroke-width="0.4"/>
<path d="M475.61,203.52 L480.41,203.52 L478.01,207.84 Z" fill="#5c2c92" stroke="#200838" stroke-width="0.4"/>
<path d="M464.41,203.86 L469.21,203.86 L466.81,208.18 Z" fill="#5c2c92" stroke="#200838" stroke-width="0.4"/>
<path d="M453.21,204.55 L458.01,204.55 L455.61,208.87 Z" fill="#5c2c92" stroke="#200838" stroke-width="0.4"/>
<path d="M442.02,205.92 L446.82,205.92 L444.42,210.24 Z" fill="#5c2c92" stroke="#200838" stroke-width="0.4"/>
<path d="M430.82,207.99 L435.62,207.99 L433.22,212.31 Z" fill="#5c2c92" stroke="#200838" stroke-width="0.4"/>
<path d="M419.62,213.49 L424.42,213.49 L422.02,217.81 Z" fill="#5c2c92" stroke="#200838" stroke-width="0.4"/>
<path d="M408.43,224.5 L413.22,224.5 L410.82,228.82 Z" fill="#5c2c92" stroke="#200838" stroke-width="0.4"/>
<path d="M397.23,236.88 L402.03,236.88 L399.63,241.2 Z" fill="#5c2c92" stroke="#200838" stroke-width="0.4"/>
<path d="M386.03,274.04 L390.83,274.04 L388.43,278.36 Z" fill="#5c2c92" stroke="#200838" stroke-width="0.4"/>
<path d="M374.83,293.3 L379.63,293.3 L377.23,297.62 Z" fill="#5c2c92" stroke="#200838" stroke-width="0.4"/>
<path d="M363.64,317.04 L368.44,317.04 L366.04,321.36 Z" fill="#5c2c92" stroke="#200838" stroke-width="0.4"/>
<path d="M352.44,324.26 L357.24,324.26 L354.84,328.58 Z" fill="#5c2c92" stroke="#200838" stroke-width="0.4"/>
<path d="M341.24,327.01 L346.04,327.01 L343.64,331.33 Z" fill="#5c2c92" stroke="#200838" stroke-width="0.4"/>
<path d="M330.05,328.39 L334.85,328.39 L332.45,332.71 Z" fill="#5c2c92" stroke="#200838" stroke-width="0.4"/>
<path d="M318.85,328.73 L323.65,328.73 L321.25,333.05 Z" fill="#5c2c92" stroke="#200838" stroke-width="0.4"/>
<path d="M318.85,328.73 L323.65,328.73 L321.25,333.05 Z" fill="#5c2c92" stroke="#200838" stroke-width="0.4"/>
<path d="M330.05,328.39 L334.85,328.39 L332.45,332.71 Z" fill="#5c2c92" stroke="#200838" stroke-width="0.4"/>
<path d="M341.24,328.04 L346.04,328.04 L343.64,332.36 Z" fill="#5c2c92" stroke="#200838" stroke-width="0.4"/>
<path d="M352.44,327.7 L357.24,327.7 L354.84,332.02 Z" fill="#5c2c92" stroke="#200838" stroke-width="0.4"/>
<path d="M363.64,327.01 L368.44,327.01 L366.04,331.33 Z" fill="#5c2c92" stroke="#200838" stroke-width="0.4"/>
<path d="M374.83,325.64 L379.63,325.64 L377.23,329.96 Z" fill="#5c2c92" stroke="#200838" stroke-width="0.4"/>
<path d="M386.03,323.57 L390.83,323.57 L388.43,327.89 Z" fill="#5c2c92" stroke="#200838" stroke-width="0.4"/>
<path d="M397.23,318.07 L402.03,318.07 L399.63,322.39 Z" fill="#5c2c92" stroke="#200838" stroke-width="0.4"/>
<path d="M408.43,307.06 L413.22,307.06 L410.82,311.38 Z" fill="#5c2c92" stroke="#200838" stroke-width="0.4"/>
<path d="M419.62,294.68 L424.42,294.68 L422.02,299 Z" fill="#5c2c92" stroke="#200838" stroke-width="0.4"/>
<path d="M430.82,257.52 L435.62,257.52 L433.22,261.84 Z" fill="#5c2c92" stroke="#200838" stroke-width="0.4"/>
<path d="M442.02,238.26 L446.82,238.26 L444.42,242.58 Z" fill="#5c2c92" stroke="#200838" stroke-width="0.4"/>
<path d="M453.21,214.52 L458.01,214.52 L455.61,218.84 Z" fill="#5c2c92" stroke="#200838" stroke-width="0.4"/>
<path d="M464.41,207.3 L469.21,207.3 L466.81,211.62 Z" fill="#5c2c92" stroke="#200838" stroke-width="0.4"/>
<path d="M475.61,204.55 L480.41,204.55 L478.01,208.87 Z" fill="#5c2c92" stroke="#200838" stroke-width="0.4"/>
<path d="M486.8,203.17 L491.6,203.17 L489.2,207.49 Z" fill="#5c2c92" stroke="#200838" stroke-width="0.4"/>
<path d="M498,202.83 L502.8,202.83 L500.4,207.15 Z" fill="#5c2c92" stroke="#200838" stroke-width="0.4"/>
<rect x="498.05" y="202.4" width="4.7" height="4.7" fill="#22cc22" stroke="#064806" stroke-width="0.4"/>
<rect x="486.85" y="202.74" width="4.7" height="4.7" fill="#22cc22" stroke="#064806" stroke-width="0.4"/>
<rect x="475.66" y="203.09" width="4.7" height="4.7" fill="#22cc22" stroke="#064806" stroke-width="0.4"/>
<rect x="464.46" y="204.12" width="4.7" height="4.7" fill="#22cc22" stroke="#064806" stroke-width="0.4"/>
<rect x="453.26" y="205.49" width="4.7" height="4.7" fill="#22cc22" stroke="#064806" stroke-width="0.4"/>
<rect x="442.07" y="206.87" width="4.7" height="4.7" fill="#22cc22" stroke="#064806" stroke-width="0.4"/>
<rect x="430.87" y="212.24" width="4.7" height="4.7" fill="#22cc22" stroke="#064806" stroke-width="0.4"/>
<rect x="419.67" y="223.73" width="4.7" height="4.7" fill="#22cc22" stroke="#064806" stroke-width="0.4"/>
<rect x="408.47" y="238.86" width="4.7" height="4.7" fill="#22cc22" stroke="#064806" stroke-width="0.4"/>
<rect x="397.28" y="268.79" width="4.7" height="4.7" fill="#22cc22" stroke="#064806" stroke-width="0.4"/>
<rect x="386.08" y="301.81" width="4.7" height="4.7" fill="#22cc22" stroke="#064806" stroke-width="0.4"/>
<rect x="374.88" y="314.89" width="4.7" height="4.7" fill="#22cc22" stroke="#064806" stroke-width="0.4"/>
<rect x="363.69" y="321.77" width="4.7" height="4.7" fill="#22cc22" stroke="#064806" stroke-width="0.4"/>
<rect x="352.49" y="325.21" width="4.7" height="4.7" fill="#22cc22" stroke="#064806" stroke-width="0.4"/>
<rect x="341.29" y="327.27" width="4.7" height="4.7" fill="#22cc22" stroke="#064806" stroke-width="0.4"/>
<rect x="330.1" y="327.96" width="4.7" height="4.7" fill="#22cc22" stroke="#064806" stroke-width="0.4"/>
<rect x="318.9" y="328.3" width="4.7" height="4.7" fill="#22cc22" stroke="#064806" stroke-width="0.4"/>
<rect x="318.9" y="328.3" width="4.7" height="4.7" fill="#22cc22" stroke="#064806" stroke-width="0.4"/>
<rect x="330.1" y="327.96" width="4.7" height="4.7" fill="#22cc22" stroke="#064806" stroke-width="0.4"/>
<rect x="341.29" y="327.61" width="4.7" height="4.7" fill="#22cc22" stroke="#064806" stroke-width="0.4"/>
<rect x="352.49" y="326.58" width="4.7" height="4.7" fill="#22cc22" stroke="#064806" stroke-width="0.4"/>
<rect x="363.69" y="325.21" width="4.7" height="4.7" fill="#22cc22" stroke="#064806" stroke-width="0.4"/>
<rect x="374.88" y="323.83" width="4.7" height="4.7" fill="#22cc22" stroke="#064806" stroke-width="0.4"/>
<rect x="386.08" y="318.46" width="4.7" height="4.7" fill="#22cc22" stroke="#064806" stroke-width="0.4"/>
<rect x="397.28" y="306.97" width="4.7" height="4.7" fill="#22cc22" stroke="#064806" stroke-width="0.4"/>
<rect x="408.47" y="291.84" width="4.7" height="4.7" fill="#22cc22" stroke="#064806" stroke-width="0.4"/>
<rect x="419.67" y="261.91" width="4.7" height="4.7" fill="#22cc22" stroke="#064806" stroke-width="0.4"/>
<rect x="430.87" y="228.89" width="4.7" height="4.7" fill="#22cc22" stroke="#064806" stroke-width="0.4"/>
<rect x="442.07" y="215.81" width="4.7" height="4.7" fill="#22cc22" stroke="#064806" stroke-width="0.4"/>
<rect x="453.26" y="208.93" width="4.7" height="4.7" fill="#22cc22" stroke="#064806" stroke-width="0.4"/>
<rect x="464.46" y="205.49" width="4.7" height="4.7" fill="#22cc22" stroke="#064806" stroke-width="0.4"/>
<rect x="475.66" y="203.43" width="4.7" height="4.7" fill="#22cc22" stroke="#064806" stroke-width="0.4"/>
<rect x="486.85" y="202.74" width="4.7" height="4.7" fill="#22cc22" stroke="#064806" stroke-width="0.4"/>
<rect x="498.05" y="202.4" width="4.7" height="4.7" fill="#22cc22" stroke="#064806" stroke-width="0.4"/>
<path d="M500.4,201.3 L503.5,204.4 L500.4,207.5 L497.3,204.4 Z" fill="#1a44e0" stroke="#000830" stroke-width="0.5"/>
<path d="M489.2,201.65 L492.3,204.75 L489.2,207.85 L486.1,204.75 Z" fill="#1a44e0" stroke="#000830" stroke-width="0.5"/>
<path d="M478.01,202.34 L481.11,205.44 L478.01,208.54 L474.91,205.44 Z" fill="#1a44e0" stroke="#000830" stroke-width="0.5"/>
<path d="M466.81,202.89 L469.91,205.99 L466.81,209.09 L463.71,205.99 Z" fill="#1a44e0" stroke="#000830" stroke-width="0.5"/>
<path d="M455.61,205.43 L458.71,208.53 L455.61,211.63 L452.51,208.53 Z" fill="#1a44e0" stroke="#000830" stroke-width="0.5"/>
<path d="M444.42,209.56 L447.52,212.66 L444.42,215.76 L441.32,212.66 Z" fill="#1a44e0" stroke="#000830" stroke-width="0.5"/>
<path d="M433.22,216.23 L436.32,219.33 L433.22,222.43 L430.12,219.33 Z" fill="#1a44e0" stroke="#000830" stroke-width="0.5"/>
<path d="M422.02,232.13 L425.12,235.23 L422.02,238.33 L418.92,235.23 Z" fill="#1a44e0" stroke="#000830" stroke-width="0.5"/>
<path d="M410.82,261.16 L413.93,264.26 L410.82,267.36 L407.72,264.26 Z" fill="#1a44e0" stroke="#000830" stroke-width="0.5"/>
<path d="M399.63,289.37 L402.73,292.47 L399.63,295.57 L396.53,292.47 Z" fill="#1a44e0" stroke="#000830" stroke-width="0.5"/>
<path d="M388.43,310.01 L391.53,313.11 L388.43,316.21 L385.33,313.11 Z" fill="#1a44e0" stroke="#000830" stroke-width="0.5"/>
<path d="M377.23,319.3 L380.33,322.4 L377.23,325.5 L374.13,322.4 Z" fill="#1a44e0" stroke="#000830" stroke-width="0.5"/>
<path d="M366.04,323.08 L369.14,326.18 L366.04,329.28 L362.94,326.18 Z" fill="#1a44e0" stroke="#000830" stroke-width="0.5"/>
<path d="M354.84,325.83 L357.94,328.93 L354.84,332.03 L351.74,328.93 Z" fill="#1a44e0" stroke="#000830" stroke-width="0.5"/>
<path d="M343.64,326.86 L346.74,329.96 L343.64,333.06 L340.54,329.96 Z" fill="#1a44e0" stroke="#000830" stroke-width="0.5"/>
<path d="M332.45,327.55 L335.55,330.65 L332.45,333.75 L329.35,330.65 Z" fill="#1a44e0" stroke="#000830" stroke-width="0.5"/>
<path d="M321.25,327.9 L324.35,331 L321.25,334.1 L318.15,331 Z" fill="#1a44e0" stroke="#000830" stroke-width="0.5"/>
<path d="M321.25,327.9 L324.35,331 L321.25,334.1 L318.15,331 Z" fill="#1a44e0" stroke="#000830" stroke-width="0.5"/>
<path d="M332.45,327.55 L335.55,330.65 L332.45,333.75 L329.35,330.65 Z" fill="#1a44e0" stroke="#000830" stroke-width="0.5"/>
<path d="M343.64,326.86 L346.74,329.96 L343.64,333.06 L340.54,329.96 Z" fill="#1a44e0" stroke="#000830" stroke-width="0.5"/>
<path d="M354.84,326.31 L357.94,329.41 L354.84,332.51 L351.74,329.41 Z" fill="#1a44e0" stroke="#000830" stroke-width="0.5"/>
<path d="M366.04,323.77 L369.14,326.87 L366.04,329.97 L362.94,326.87 Z" fill="#1a44e0" stroke="#000830" stroke-width="0.5"/>
<path d="M377.23,319.64 L380.33,322.74 L377.23,325.84 L374.13,322.74 Z" fill="#1a44e0" stroke="#000830" stroke-width="0.5"/>
<path d="M388.43,312.97 L391.53,316.07 L388.43,319.17 L385.33,316.07 Z" fill="#1a44e0" stroke="#000830" stroke-width="0.5"/>
<path d="M399.63,297.07 L402.73,300.17 L399.63,303.27 L396.53,300.17 Z" fill="#1a44e0" stroke="#000830" stroke-width="0.5"/>
<path d="M410.82,268.04 L413.93,271.14 L410.82,274.24 L407.72,271.14 Z" fill="#1a44e0" stroke="#000830" stroke-width="0.5"/>
<path d="M422.02,239.83 L425.12,242.93 L422.02,246.03 L418.92,242.93 Z" fill="#1a44e0" stroke="#000830" stroke-width="0.5"/>
<path d="M433.22,219.19 L436.32,222.29 L433.22,225.39 L430.12,222.29 Z" fill="#1a44e0" stroke="#000830" stroke-width="0.5"/>
<path d="M444.42,209.9 L447.52,213 L444.42,216.1 L441.32,213 Z" fill="#1a44e0" stroke="#000830" stroke-width="0.5"/>
<path d="M455.61,206.12 L458.71,209.22 L455.61,212.32 L452.51,209.22 Z" fill="#1a44e0" stroke="#000830" stroke-width="0.5"/>
<path d="M466.81,203.37 L469.91,206.47 L466.81,209.57 L463.71,206.47 Z" fill="#1a44e0" stroke="#000830" stroke-width="0.5"/>
<path d="M478.01,202.34 L481.11,205.44 L478.01,208.54 L474.91,205.44 Z" fill="#1a44e0" stroke="#000830" stroke-width="0.5"/>
<path d="M489.2,201.65 L492.3,204.75 L489.2,207.85 L486.1,204.75 Z" fill="#1a44e0" stroke="#000830" stroke-width="0.5"/>
<path d="M500.4,201.3 L503.5,204.4 L500.4,207.5 L497.3,204.4 Z" fill="#1a44e0" stroke="#000830" stroke-width="0.5"/>
</g>
<rect x="310.5" y="192" width="201" height="152" fill="none" stroke="#444" stroke-width="1.3"/>
<rect x="473.9" y="252.5" width="29.5" height="82" fill="#fff" stroke="#c4c4c4" stroke-width="0.8"/>
<circle cx="480.3" cy="258.4" r="2.6" fill="#1a1a9c" stroke="#000020" stroke-width="0.4"/>
<text x="484.6" y="261.2" font-size="7.7" fill="#333" stroke="#333" stroke-width="0.12">2.0K</text>
<path d="M477.9,265.26 L482.7,265.26 L480.3,269.58 Z" fill="#1838d8" stroke="#000830" stroke-width="0.4"/>
<text x="484.6" y="269.98" font-size="7.7" fill="#333" stroke="#333" stroke-width="0.12">3.0K</text>
<rect x="477.95" y="273.61" width="4.7" height="4.7" fill="#14d414" stroke="#064806" stroke-width="0.4"/>
<text x="484.6" y="278.76" font-size="7.7" fill="#333" stroke="#333" stroke-width="0.12">4.0K</text>
<path d="M480.3,281.64 L483.4,284.74 L480.3,287.84 L477.2,284.74 Z" fill="#f2f29c" stroke="#6a6a20" stroke-width="0.5"/>
<text x="484.6" y="287.54" font-size="7.7" fill="#333" stroke="#333" stroke-width="0.12">5.0K</text>
<path d="M477.9,295.44 L482.7,295.44 L480.3,291.12 Z" fill="#f26a28" stroke="#603010" stroke-width="0.4"/>
<text x="484.6" y="296.32" font-size="7.7" fill="#333" stroke="#333" stroke-width="0.12">6.0K</text>
<circle cx="480.3" cy="302.3" r="2.6" fill="#ee1414" stroke="#900808" stroke-width="0.4"/>
<text x="484.6" y="305.1" font-size="7.7" fill="#333" stroke="#333" stroke-width="0.12">6.5K</text>
<path d="M477.9,309.16 L482.7,309.16 L480.3,313.48 Z" fill="#5c2c92" stroke="#200838" stroke-width="0.4"/>
<text x="484.6" y="313.88" font-size="7.7" fill="#333" stroke="#333" stroke-width="0.12">7.0K</text>
<rect x="477.95" y="317.51" width="4.7" height="4.7" fill="#22cc22" stroke="#064806" stroke-width="0.4"/>
<text x="484.6" y="322.66" font-size="7.7" fill="#333" stroke="#333" stroke-width="0.12">7.5K</text>
<path d="M480.3,325.54 L483.4,328.64 L480.3,331.74 L477.2,328.64 Z" fill="#1a44e0" stroke="#000830" stroke-width="0.5"/>
<text x="484.6" y="331.44" font-size="7.7" fill="#333" stroke="#333" stroke-width="0.12">8.0K</text>
</svg></body></html>
